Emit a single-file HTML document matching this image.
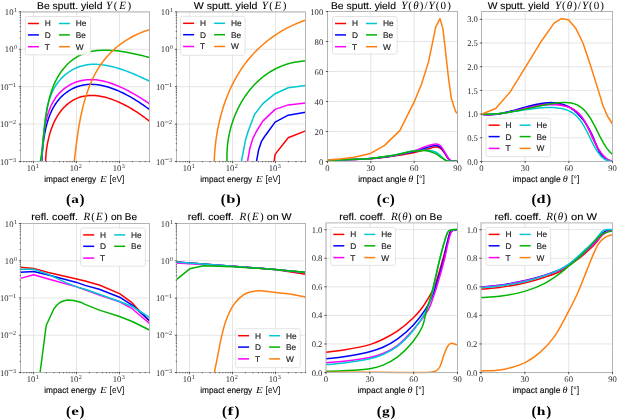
<!DOCTYPE html>
<html><head><meta charset="utf-8"><style>
html,body{margin:0;padding:0;background:#fff;width:617px;height:419px;overflow:hidden}
svg{display:block;will-change:transform}
text{text-rendering:geometricPrecision}
.t{stroke:#000;stroke-width:0.12px}
.u{stroke:#222;stroke-width:0.15px}
</style></head><body>
<svg width="617" height="419" viewBox="0 0 617 419">
<rect width="617" height="419" fill="#fff"/>
<line x1="33.44" y1="11.9" x2="33.44" y2="161.5" stroke="#dedede" stroke-width="0.8"/>
<line x1="76.44" y1="11.9" x2="76.44" y2="161.5" stroke="#dedede" stroke-width="0.8"/>
<line x1="119.44" y1="11.9" x2="119.44" y2="161.5" stroke="#dedede" stroke-width="0.8"/>
<line x1="20.5" y1="161.5" x2="149.5" y2="161.5" stroke="#dedede" stroke-width="0.8"/>
<line x1="20.5" y1="124.1" x2="149.5" y2="124.1" stroke="#dedede" stroke-width="0.8"/>
<line x1="20.5" y1="86.7" x2="149.5" y2="86.7" stroke="#dedede" stroke-width="0.8"/>
<line x1="20.5" y1="49.3" x2="149.5" y2="49.3" stroke="#dedede" stroke-width="0.8"/>
<line x1="20.5" y1="11.9" x2="149.5" y2="11.9" stroke="#dedede" stroke-width="0.8"/>
<path d="M45.6,161.5 L45.66,159.76 L45.74,157.98 L45.85,156.16 L46,154.3 L46.19,152.41 L46.41,150.49 L46.67,148.55 L46.96,146.59 L47.29,144.62 L47.66,142.63 L48.08,140.63 L48.53,138.64 L49.02,136.64 L49.56,134.65 L50.14,132.66 L50.77,130.69 L51.44,128.74 L52.16,126.81 L52.93,124.9 L53.74,123.02 L54.6,121.17 L55.52,119.36 L56.48,117.59 L57.5,115.87 L58.57,114.2 L59.69,112.58 L60.87,111.01 L62.1,109.51 L63.39,108.07 L64.72,106.69 L66.1,105.38 L67.53,104.15 L69,102.98 L70.51,101.89 L72.06,100.88 L73.65,99.95 L75.27,99.1 L76.93,98.34 L78.62,97.66 L80.33,97.08 L82.07,96.59 L83.84,96.19 L85.63,95.88 L87.44,95.65 L89.27,95.51 L91.12,95.46 L92.98,95.48 L94.86,95.57 L96.75,95.74 L98.64,95.98 L100.55,96.29 L102.46,96.66 L104.38,97.1 L106.3,97.59 L108.21,98.15 L110.13,98.75 L112.04,99.41 L113.95,100.11 L115.85,100.86 L117.74,101.66 L119.63,102.49 L121.49,103.36 L123.35,104.27 L125.19,105.21 L127,106.18 L128.8,107.18 L130.58,108.19 L132.33,109.24 L134.06,110.29 L135.76,111.37 L137.43,112.46 L139.07,113.56 L140.67,114.66 L142.24,115.77 L143.77,116.89 L145.26,118 L146.72,119.11 L148.13,120.21 L149.49,121.3" fill="none" stroke="#ff0000" stroke-width="1.5" stroke-linejoin="round"/>
<path d="M41.8,161.5 L41.9,159.64 L42.02,157.72 L42.14,155.76 L42.28,153.76 L42.43,151.72 L42.61,149.64 L42.8,147.54 L43.02,145.41 L43.27,143.25 L43.54,141.08 L43.84,138.9 L44.17,136.71 L44.54,134.51 L44.95,132.31 L45.39,130.11 L45.87,127.92 L46.4,125.75 L46.97,123.59 L47.59,121.45 L48.25,119.33 L48.97,117.24 L49.74,115.19 L50.57,113.17 L51.46,111.19 L52.4,109.26 L53.41,107.38 L54.48,105.55 L55.62,103.78 L56.82,102.07 L58.09,100.42 L59.43,98.85 L60.83,97.34 L62.29,95.9 L63.81,94.54 L65.38,93.25 L67,92.04 L68.67,90.91 L70.39,89.86 L72.15,88.9 L73.95,88.02 L75.78,87.23 L77.65,86.53 L79.55,85.92 L81.49,85.41 L83.44,84.99 L85.42,84.68 L87.43,84.46 L89.45,84.34 L91.48,84.31 L93.53,84.38 L95.6,84.53 L97.67,84.77 L99.75,85.09 L101.84,85.48 L103.93,85.94 L106.02,86.48 L108.11,87.08 L110.19,87.74 L112.27,88.46 L114.35,89.23 L116.41,90.05 L118.47,90.93 L120.51,91.84 L122.53,92.8 L124.53,93.79 L126.52,94.82 L128.48,95.87 L130.42,96.95 L132.33,98.05 L134.21,99.18 L136.06,100.31 L137.88,101.46 L139.66,102.61 L141.41,103.77 L143.11,104.93 L144.77,106.09 L146.39,107.24 L147.97,108.38 L149.49,109.5" fill="none" stroke="#0000ff" stroke-width="1.5" stroke-linejoin="round"/>
<path d="M41.4,161.5 L41.53,159.66 L41.65,157.77 L41.78,155.81 L41.91,153.8 L42.05,151.74 L42.19,149.63 L42.35,147.48 L42.53,145.3 L42.72,143.09 L42.93,140.85 L43.17,138.59 L43.43,136.31 L43.72,134.02 L44.05,131.73 L44.4,129.43 L44.8,127.13 L45.23,124.84 L45.7,122.56 L46.22,120.3 L46.79,118.05 L47.4,115.84 L48.07,113.65 L48.79,111.49 L49.57,109.38 L50.41,107.31 L51.32,105.28 L52.29,103.31 L53.33,101.4 L54.44,99.55 L55.62,97.77 L56.88,96.06 L58.22,94.43 L59.63,92.87 L61.1,91.38 L62.64,89.98 L64.25,88.66 L65.91,87.42 L67.62,86.27 L69.39,85.2 L71.21,84.22 L73.07,83.33 L74.97,82.53 L76.91,81.82 L78.89,81.21 L80.9,80.7 L82.93,80.28 L84.99,79.96 L87.07,79.74 L89.17,79.63 L91.29,79.61 L93.42,79.69 L95.56,79.85 L97.7,80.1 L99.86,80.44 L102.02,80.85 L104.18,81.34 L106.35,81.89 L108.51,82.52 L110.67,83.2 L112.82,83.94 L114.96,84.74 L117.09,85.59 L119.21,86.48 L121.31,87.42 L123.4,88.39 L125.46,89.4 L127.51,90.44 L129.52,91.5 L131.52,92.59 L133.48,93.69 L135.41,94.81 L137.31,95.94 L139.18,97.08 L141,98.21 L142.79,99.35 L144.53,100.48 L146.23,101.6 L147.89,102.71 L149.49,103.8" fill="none" stroke="#ff00ff" stroke-width="1.5" stroke-linejoin="round"/>
<path d="M40.9,161.5 L41.23,159.49 L41.54,157.43 L41.81,155.32 L42.06,153.17 L42.3,150.97 L42.51,148.73 L42.72,146.45 L42.91,144.14 L43.1,141.8 L43.28,139.44 L43.47,137.05 L43.66,134.65 L43.86,132.23 L44.08,129.81 L44.31,127.37 L44.56,124.93 L44.83,122.49 L45.13,120.06 L45.46,117.63 L45.82,115.21 L46.22,112.81 L46.66,110.42 L47.14,108.06 L47.68,105.72 L48.26,103.41 L48.9,101.13 L49.6,98.89 L50.36,96.69 L51.19,94.53 L52.09,92.42 L53.06,90.36 L54.11,88.35 L55.23,86.4 L56.44,84.51 L57.74,82.69 L59.11,80.94 L60.56,79.25 L62.09,77.64 L63.69,76.11 L65.35,74.65 L67.08,73.28 L68.87,71.99 L70.72,70.8 L72.62,69.69 L74.57,68.68 L76.58,67.77 L78.62,66.96 L80.71,66.25 L82.84,65.65 L85,65.16 L87.2,64.78 L89.42,64.51 L91.67,64.35 L93.95,64.28 L96.24,64.31 L98.55,64.42 L100.88,64.62 L103.21,64.91 L105.56,65.26 L107.91,65.69 L110.26,66.19 L112.61,66.74 L114.95,67.36 L117.29,68.02 L119.62,68.74 L121.94,69.5 L124.24,70.29 L126.52,71.12 L128.78,71.99 L131.01,72.87 L133.22,73.78 L135.39,74.7 L137.53,75.63 L139.64,76.57 L141.7,77.51 L143.72,78.45 L145.7,79.38 L147.62,80.3 L149.49,81.2" fill="none" stroke="#00c8d2" stroke-width="1.5" stroke-linejoin="round"/>
<path d="M40.3,161.5 L40.7,159.33 L41.07,157.13 L41.42,154.9 L41.75,152.63 L42.05,150.33 L42.34,148 L42.61,145.65 L42.88,143.27 L43.13,140.88 L43.38,138.46 L43.63,136.03 L43.88,133.58 L44.14,131.13 L44.4,128.66 L44.67,126.18 L44.95,123.71 L45.25,121.22 L45.57,118.74 L45.91,116.26 L46.28,113.79 L46.67,111.32 L47.1,108.86 L47.55,106.42 L48.05,103.99 L48.58,101.57 L49.16,99.17 L49.79,96.8 L50.46,94.44 L51.18,92.12 L51.96,89.82 L52.8,87.55 L53.69,85.31 L54.65,83.11 L55.68,80.94 L56.78,78.82 L57.94,76.74 L59.17,74.71 L60.47,72.73 L61.84,70.81 L63.27,68.94 L64.77,67.15 L66.33,65.43 L67.96,63.78 L69.65,62.21 L71.4,60.72 L73.21,59.33 L75.08,58.02 L77.01,56.82 L78.99,55.71 L81.04,54.71 L83.14,53.82 L85.3,53.04 L87.51,52.37 L89.76,51.79 L92.05,51.3 L94.38,50.91 L96.75,50.61 L99.15,50.39 L101.57,50.24 L104.01,50.18 L106.48,50.18 L108.95,50.25 L111.44,50.38 L113.94,50.56 L116.43,50.8 L118.93,51.1 L121.42,51.43 L123.9,51.81 L126.37,52.23 L128.82,52.67 L131.25,53.15 L133.66,53.65 L136.04,54.17 L138.39,54.71 L140.7,55.26 L142.97,55.82 L145.19,56.38 L147.37,56.95 L149.5,57.5" fill="none" stroke="#00b400" stroke-width="1.5" stroke-linejoin="round"/>
<path d="M74.2,161.5 L74.44,159.55 L74.67,157.58 L74.91,155.61 L75.15,153.62 L75.39,151.62 L75.64,149.6 L75.89,147.58 L76.15,145.55 L76.41,143.51 L76.68,141.47 L76.96,139.42 L77.25,137.36 L77.54,135.3 L77.85,133.24 L78.16,131.17 L78.49,129.1 L78.83,127.03 L79.19,124.95 L79.55,122.88 L79.93,120.81 L80.33,118.74 L80.74,116.68 L81.17,114.62 L81.61,112.56 L82.08,110.51 L82.56,108.47 L83.06,106.43 L83.58,104.4 L84.12,102.38 L84.69,100.37 L85.27,98.37 L85.88,96.38 L86.51,94.4 L87.17,92.43 L87.85,90.48 L88.56,88.55 L89.29,86.63 L90.06,84.72 L90.85,82.84 L91.67,80.97 L92.51,79.12 L93.39,77.29 L94.3,75.48 L95.24,73.69 L96.22,71.93 L97.22,70.18 L98.27,68.46 L99.34,66.77 L100.45,65.1 L101.6,63.46 L102.78,61.84 L104,60.26 L105.26,58.7 L106.55,57.17 L107.87,55.66 L109.23,54.19 L110.63,52.75 L112.05,51.34 L113.52,49.96 L115.01,48.61 L116.54,47.29 L118.11,46.01 L119.7,44.76 L121.33,43.54 L123,42.36 L124.69,41.21 L126.41,40.1 L128.17,39.03 L129.96,37.99 L131.78,36.99 L133.63,36.02 L135.51,35.09 L137.42,34.2 L139.36,33.35 L141.34,32.54 L143.34,31.77 L145.37,31.04 L147.43,30.36 L149.51,29.71" fill="none" stroke="#ff7f0e" stroke-width="1.5" stroke-linejoin="round"/>
<rect x="20.5" y="11.9" width="129" height="149.6" fill="none" stroke="#b4b4b4" stroke-width="1"/>
<line x1="33.44" y1="160.9" x2="33.44" y2="163.2" stroke="#484848" stroke-width="0.9"/>
<line x1="76.44" y1="160.9" x2="76.44" y2="163.2" stroke="#484848" stroke-width="0.9"/>
<line x1="119.44" y1="160.9" x2="119.44" y2="163.2" stroke="#484848" stroke-width="0.9"/>
<line x1="21.1" y1="161.5" x2="18.8" y2="161.5" stroke="#484848" stroke-width="0.9"/>
<line x1="21.1" y1="124.1" x2="18.8" y2="124.1" stroke="#484848" stroke-width="0.9"/>
<line x1="21.1" y1="86.7" x2="18.8" y2="86.7" stroke="#484848" stroke-width="0.9"/>
<line x1="21.1" y1="49.3" x2="18.8" y2="49.3" stroke="#484848" stroke-width="0.9"/>
<line x1="21.1" y1="11.9" x2="18.8" y2="11.9" stroke="#484848" stroke-width="0.9"/>
<line x1="20.5" y1="161" x2="20.5" y2="162.3" stroke="#484848" stroke-width="0.8"/>
<line x1="23.9" y1="161" x2="23.9" y2="162.3" stroke="#484848" stroke-width="0.8"/>
<line x1="26.78" y1="161" x2="26.78" y2="162.3" stroke="#484848" stroke-width="0.8"/>
<line x1="29.28" y1="161" x2="29.28" y2="162.3" stroke="#484848" stroke-width="0.8"/>
<line x1="31.48" y1="161" x2="31.48" y2="162.3" stroke="#484848" stroke-width="0.8"/>
<line x1="46.39" y1="161" x2="46.39" y2="162.3" stroke="#484848" stroke-width="0.8"/>
<line x1="53.96" y1="161" x2="53.96" y2="162.3" stroke="#484848" stroke-width="0.8"/>
<line x1="59.33" y1="161" x2="59.33" y2="162.3" stroke="#484848" stroke-width="0.8"/>
<line x1="63.5" y1="161" x2="63.5" y2="162.3" stroke="#484848" stroke-width="0.8"/>
<line x1="66.9" y1="161" x2="66.9" y2="162.3" stroke="#484848" stroke-width="0.8"/>
<line x1="69.78" y1="161" x2="69.78" y2="162.3" stroke="#484848" stroke-width="0.8"/>
<line x1="72.28" y1="161" x2="72.28" y2="162.3" stroke="#484848" stroke-width="0.8"/>
<line x1="74.48" y1="161" x2="74.48" y2="162.3" stroke="#484848" stroke-width="0.8"/>
<line x1="89.39" y1="161" x2="89.39" y2="162.3" stroke="#484848" stroke-width="0.8"/>
<line x1="96.96" y1="161" x2="96.96" y2="162.3" stroke="#484848" stroke-width="0.8"/>
<line x1="102.33" y1="161" x2="102.33" y2="162.3" stroke="#484848" stroke-width="0.8"/>
<line x1="106.5" y1="161" x2="106.5" y2="162.3" stroke="#484848" stroke-width="0.8"/>
<line x1="109.9" y1="161" x2="109.9" y2="162.3" stroke="#484848" stroke-width="0.8"/>
<line x1="112.78" y1="161" x2="112.78" y2="162.3" stroke="#484848" stroke-width="0.8"/>
<line x1="115.28" y1="161" x2="115.28" y2="162.3" stroke="#484848" stroke-width="0.8"/>
<line x1="117.48" y1="161" x2="117.48" y2="162.3" stroke="#484848" stroke-width="0.8"/>
<line x1="132.39" y1="161" x2="132.39" y2="162.3" stroke="#484848" stroke-width="0.8"/>
<line x1="139.96" y1="161" x2="139.96" y2="162.3" stroke="#484848" stroke-width="0.8"/>
<line x1="145.33" y1="161" x2="145.33" y2="162.3" stroke="#484848" stroke-width="0.8"/>
<line x1="149.5" y1="161" x2="149.5" y2="162.3" stroke="#484848" stroke-width="0.8"/>
<line x1="21" y1="150.24" x2="19.7" y2="150.24" stroke="#484848" stroke-width="0.8"/>
<line x1="21" y1="143.66" x2="19.7" y2="143.66" stroke="#484848" stroke-width="0.8"/>
<line x1="21" y1="138.98" x2="19.7" y2="138.98" stroke="#484848" stroke-width="0.8"/>
<line x1="21" y1="135.36" x2="19.7" y2="135.36" stroke="#484848" stroke-width="0.8"/>
<line x1="21" y1="132.4" x2="19.7" y2="132.4" stroke="#484848" stroke-width="0.8"/>
<line x1="21" y1="129.89" x2="19.7" y2="129.89" stroke="#484848" stroke-width="0.8"/>
<line x1="21" y1="127.72" x2="19.7" y2="127.72" stroke="#484848" stroke-width="0.8"/>
<line x1="21" y1="125.81" x2="19.7" y2="125.81" stroke="#484848" stroke-width="0.8"/>
<line x1="21" y1="112.84" x2="19.7" y2="112.84" stroke="#484848" stroke-width="0.8"/>
<line x1="21" y1="106.26" x2="19.7" y2="106.26" stroke="#484848" stroke-width="0.8"/>
<line x1="21" y1="101.58" x2="19.7" y2="101.58" stroke="#484848" stroke-width="0.8"/>
<line x1="21" y1="97.96" x2="19.7" y2="97.96" stroke="#484848" stroke-width="0.8"/>
<line x1="21" y1="95" x2="19.7" y2="95" stroke="#484848" stroke-width="0.8"/>
<line x1="21" y1="92.49" x2="19.7" y2="92.49" stroke="#484848" stroke-width="0.8"/>
<line x1="21" y1="90.32" x2="19.7" y2="90.32" stroke="#484848" stroke-width="0.8"/>
<line x1="21" y1="88.41" x2="19.7" y2="88.41" stroke="#484848" stroke-width="0.8"/>
<line x1="21" y1="75.44" x2="19.7" y2="75.44" stroke="#484848" stroke-width="0.8"/>
<line x1="21" y1="68.86" x2="19.7" y2="68.86" stroke="#484848" stroke-width="0.8"/>
<line x1="21" y1="64.18" x2="19.7" y2="64.18" stroke="#484848" stroke-width="0.8"/>
<line x1="21" y1="60.56" x2="19.7" y2="60.56" stroke="#484848" stroke-width="0.8"/>
<line x1="21" y1="57.6" x2="19.7" y2="57.6" stroke="#484848" stroke-width="0.8"/>
<line x1="21" y1="55.09" x2="19.7" y2="55.09" stroke="#484848" stroke-width="0.8"/>
<line x1="21" y1="52.92" x2="19.7" y2="52.92" stroke="#484848" stroke-width="0.8"/>
<line x1="21" y1="51.01" x2="19.7" y2="51.01" stroke="#484848" stroke-width="0.8"/>
<line x1="21" y1="38.04" x2="19.7" y2="38.04" stroke="#484848" stroke-width="0.8"/>
<line x1="21" y1="31.46" x2="19.7" y2="31.46" stroke="#484848" stroke-width="0.8"/>
<line x1="21" y1="26.78" x2="19.7" y2="26.78" stroke="#484848" stroke-width="0.8"/>
<line x1="21" y1="23.16" x2="19.7" y2="23.16" stroke="#484848" stroke-width="0.8"/>
<line x1="21" y1="20.2" x2="19.7" y2="20.2" stroke="#484848" stroke-width="0.8"/>
<line x1="21" y1="17.69" x2="19.7" y2="17.69" stroke="#484848" stroke-width="0.8"/>
<line x1="21" y1="15.52" x2="19.7" y2="15.52" stroke="#484848" stroke-width="0.8"/>
<line x1="21" y1="13.61" x2="19.7" y2="13.61" stroke="#484848" stroke-width="0.8"/>
<rect x="25.4" y="16.5" width="65.2" height="38.3" rx="2" ry="2" fill="#ffffff" fill-opacity="0.9" stroke="#dcdcdc" stroke-width="0.8"/>
<line x1="27.9" y1="23.5" x2="38.9" y2="23.5" stroke="#ff0000" stroke-width="1.5"/>
<text class="u" x="44.8" y="26.4" font-family='"Liberation Sans", sans-serif' font-size="8.35" fill="#1a1a1a">H</text>
<line x1="27.9" y1="34.9" x2="38.9" y2="34.9" stroke="#0000ff" stroke-width="1.5"/>
<text class="u" x="44.8" y="37.8" font-family='"Liberation Sans", sans-serif' font-size="8.35" fill="#1a1a1a">D</text>
<line x1="27.9" y1="46.7" x2="38.9" y2="46.7" stroke="#ff00ff" stroke-width="1.5"/>
<text class="u" x="44.8" y="49.6" font-family='"Liberation Sans", sans-serif' font-size="8.35" fill="#1a1a1a">T</text>
<line x1="58.9" y1="23.5" x2="69.9" y2="23.5" stroke="#00c8d2" stroke-width="1.5"/>
<text class="u" x="75.8" y="26.4" font-family='"Liberation Sans", sans-serif' font-size="8.35" fill="#1a1a1a">He</text>
<line x1="58.9" y1="34.9" x2="69.9" y2="34.9" stroke="#00b400" stroke-width="1.5"/>
<text class="u" x="75.8" y="37.8" font-family='"Liberation Sans", sans-serif' font-size="8.35" fill="#1a1a1a">Be</text>
<line x1="58.9" y1="46.7" x2="69.9" y2="46.7" stroke="#ff7f0e" stroke-width="1.5"/>
<text class="u" x="75.8" y="49.6" font-family='"Liberation Sans", sans-serif' font-size="8.35" fill="#1a1a1a">W</text>
<text x="26.72" y="170.8" font-family='"Liberation Serif", serif' font-size="8.6" fill="#2a2a2a">10</text>
<text x="35.74" y="167.6" font-family='"Liberation Serif", serif' font-size="6.2" fill="#2a2a2a">1</text>
<text x="69.72" y="170.8" font-family='"Liberation Serif", serif' font-size="8.6" fill="#2a2a2a">10</text>
<text x="78.74" y="167.6" font-family='"Liberation Serif", serif' font-size="6.2" fill="#2a2a2a">2</text>
<text x="112.72" y="170.8" font-family='"Liberation Serif", serif' font-size="8.6" fill="#2a2a2a">10</text>
<text x="121.74" y="167.6" font-family='"Liberation Serif", serif' font-size="6.2" fill="#2a2a2a">3</text>
<text x="13.04" y="161.6" font-family='"Liberation Serif", serif' font-size="6.2" fill="#2a2a2a">3</text>
<line x1="8.7" y1="159.4" x2="12.8" y2="159.4" stroke="#2a2a2a" stroke-width="0.55"/>
<text x="-0.06" y="164.6" font-family='"Liberation Serif", serif' font-size="8.6" fill="#2a2a2a">10</text>
<text x="13.04" y="124.2" font-family='"Liberation Serif", serif' font-size="6.2" fill="#2a2a2a">2</text>
<line x1="8.7" y1="122" x2="12.8" y2="122" stroke="#2a2a2a" stroke-width="0.55"/>
<text x="-0.06" y="127.2" font-family='"Liberation Serif", serif' font-size="8.6" fill="#2a2a2a">10</text>
<text x="13.04" y="86.8" font-family='"Liberation Serif", serif' font-size="6.2" fill="#2a2a2a">1</text>
<line x1="8.7" y1="84.6" x2="12.8" y2="84.6" stroke="#2a2a2a" stroke-width="0.55"/>
<text x="-0.06" y="89.8" font-family='"Liberation Serif", serif' font-size="8.6" fill="#2a2a2a">10</text>
<text x="14.05" y="49.4" font-family='"Liberation Serif", serif' font-size="6.2" fill="#2a2a2a">0</text>
<text x="4.84" y="52.4" font-family='"Liberation Serif", serif' font-size="8.6" fill="#2a2a2a">10</text>
<text x="14.05" y="12" font-family='"Liberation Serif", serif' font-size="6.2" fill="#2a2a2a">1</text>
<text x="4.84" y="15" font-family='"Liberation Serif", serif' font-size="8.6" fill="#2a2a2a">10</text>
<text class="t" x="36.97" y="8.75" font-family='"Liberation Sans", sans-serif' font-size="9.8" fill="#000000" textLength="65.47" lengthAdjust="spacingAndGlyphs">Be sputt. yield</text>
<text x="106.09" y="8.75" font-family='"Liberation Serif", serif' font-size="11.0" fill="#000000" font-style="italic" textLength="25.09" lengthAdjust="spacing">Y<tspan font-style="normal">(</tspan>E<tspan font-style="normal">)</tspan></text>
<text class="u" x="44.22" y="181.9" font-family='"Liberation Sans", sans-serif' font-size="8.6" fill="#000000" textLength="51.99" lengthAdjust="spacingAndGlyphs">impact energy</text>
<text x="100.01" y="181.5" font-family='"Liberation Serif", serif' font-size="9.3" fill="#000000" font-style="italic" textLength="6.72" lengthAdjust="spacingAndGlyphs">E</text>
<text x="109.62" y="181.5" font-family='"Liberation Sans", sans-serif' font-size="9.2" fill="#000000" textLength="14.75" lengthAdjust="spacingAndGlyphs">[eV]</text>
<text x="66" y="204.4" font-family='"Liberation Serif", serif' font-size="14.9" fill="#000" font-weight="bold" textLength="5" lengthAdjust="spacingAndGlyphs">(</text>
<text x="71.35" y="203.4" font-family='"Liberation Serif", serif' font-size="11.9" fill="#000" font-weight="bold" textLength="7.56" lengthAdjust="spacingAndGlyphs">a</text>
<text x="79.45" y="204.4" font-family='"Liberation Serif", serif' font-size="14.9" fill="#000" font-weight="bold" textLength="5" lengthAdjust="spacingAndGlyphs">)</text>
<line x1="189.44" y1="11.9" x2="189.44" y2="161.5" stroke="#dedede" stroke-width="0.8"/>
<line x1="232.44" y1="11.9" x2="232.44" y2="161.5" stroke="#dedede" stroke-width="0.8"/>
<line x1="275.44" y1="11.9" x2="275.44" y2="161.5" stroke="#dedede" stroke-width="0.8"/>
<line x1="176.5" y1="161.5" x2="305.5" y2="161.5" stroke="#dedede" stroke-width="0.8"/>
<line x1="176.5" y1="124.1" x2="305.5" y2="124.1" stroke="#dedede" stroke-width="0.8"/>
<line x1="176.5" y1="86.7" x2="305.5" y2="86.7" stroke="#dedede" stroke-width="0.8"/>
<line x1="176.5" y1="49.3" x2="305.5" y2="49.3" stroke="#dedede" stroke-width="0.8"/>
<line x1="176.5" y1="11.9" x2="305.5" y2="11.9" stroke="#dedede" stroke-width="0.8"/>
<path d="M274.1,161.5 L275.1,154.4 L288.2,137.7 L305.5,130.9" fill="none" stroke="#ff0000" stroke-width="1.5" stroke-linejoin="round"/>
<path d="M256.5,161.5 L258.6,149.9 L261.5,141.3 L264.3,137 L267.9,132 L275.1,122.1 L288.2,115.2 L305.5,112.3" fill="none" stroke="#0000ff" stroke-width="1.5" stroke-linejoin="round"/>
<path d="M247.5,161.5 L250,147.7 L252.9,138.4 L256.1,132 L262.8,121.1 L275.1,109.4 L288.2,104.9 L305.5,103.1" fill="none" stroke="#ff00ff" stroke-width="1.5" stroke-linejoin="round"/>
<path d="M241.4,161.5 L243.6,149.9 L245.7,139.2 L247.9,132 L254.5,114.5 L262.8,103.6 L275.1,93.7 L288.2,87.8 L305.5,85.5" fill="none" stroke="#00c8d2" stroke-width="1.5" stroke-linejoin="round"/>
<path d="M227.11,161.5 L227.03,159.72 L226.98,157.93 L226.96,156.14 L226.98,154.35 L227.02,152.56 L227.1,150.76 L227.21,148.97 L227.34,147.18 L227.51,145.38 L227.71,143.59 L227.93,141.8 L228.19,140.01 L228.48,138.23 L228.8,136.45 L229.14,134.67 L229.52,132.91 L229.92,131.14 L230.35,129.39 L230.82,127.64 L231.31,125.9 L231.83,124.16 L232.37,122.44 L232.95,120.73 L233.55,119.02 L234.18,117.33 L234.84,115.65 L235.53,113.99 L236.24,112.34 L236.98,110.7 L237.75,109.07 L238.55,107.46 L239.37,105.87 L240.22,104.29 L241.1,102.73 L242,101.19 L242.93,99.67 L243.88,98.16 L244.86,96.68 L245.87,95.22 L246.9,93.77 L247.95,92.35 L249.04,90.96 L250.14,89.58 L251.28,88.23 L252.43,86.9 L253.61,85.6 L254.82,84.32 L256.05,83.07 L257.31,81.85 L258.59,80.66 L259.89,79.49 L261.22,78.35 L262.57,77.25 L263.94,76.17 L265.34,75.12 L266.76,74.11 L268.21,73.12 L269.67,72.17 L271.16,71.26 L272.67,70.38 L274.21,69.53 L275.77,68.72 L277.35,67.94 L278.95,67.2 L280.57,66.5 L282.21,65.84 L283.88,65.22 L285.57,64.63 L287.28,64.09 L289.01,63.59 L290.76,63.12 L292.53,62.7 L294.32,62.33 L296.14,61.99 L297.97,61.7 L299.82,61.46 L301.7,61.26 L303.59,61.11 L305.51,61" fill="none" stroke="#00b400" stroke-width="1.5" stroke-linejoin="round"/>
<path d="M214.21,161.5 L214.3,159.24 L214.4,156.97 L214.54,154.7 L214.69,152.42 L214.88,150.15 L215.08,147.87 L215.31,145.6 L215.57,143.32 L215.84,141.05 L216.15,138.78 L216.48,136.51 L216.84,134.24 L217.22,131.98 L217.62,129.72 L218.06,127.47 L218.52,125.22 L219,122.98 L219.51,120.74 L220.05,118.51 L220.62,116.29 L221.21,114.08 L221.83,111.88 L222.48,109.69 L223.16,107.5 L223.86,105.33 L224.59,103.17 L225.35,101.02 L226.14,98.89 L226.96,96.77 L227.81,94.66 L228.68,92.57 L229.58,90.49 L230.52,88.43 L231.48,86.38 L232.47,84.35 L233.5,82.34 L234.55,80.35 L235.63,78.38 L236.74,76.42 L237.89,74.49 L239.06,72.58 L240.27,70.69 L241.5,68.82 L242.77,66.97 L244.07,65.14 L245.4,63.34 L246.77,61.57 L248.16,59.82 L249.59,58.09 L251.05,56.39 L252.54,54.72 L254.06,53.07 L255.61,51.45 L257.19,49.86 L258.8,48.29 L260.44,46.76 L262.11,45.25 L263.81,43.77 L265.53,42.32 L267.29,40.9 L269.07,39.52 L270.88,38.16 L272.72,36.83 L274.58,35.54 L276.47,34.27 L278.38,33.04 L280.33,31.85 L282.29,30.68 L284.28,29.55 L286.3,28.46 L288.34,27.4 L290.41,26.37 L292.5,25.38 L294.61,24.43 L296.75,23.51 L298.9,22.63 L301.08,21.78 L303.29,20.97 L305.51,20.21" fill="none" stroke="#ff7f0e" stroke-width="1.5" stroke-linejoin="round"/>
<rect x="176.5" y="11.9" width="129" height="149.6" fill="none" stroke="#b4b4b4" stroke-width="1"/>
<line x1="189.44" y1="160.9" x2="189.44" y2="163.2" stroke="#484848" stroke-width="0.9"/>
<line x1="232.44" y1="160.9" x2="232.44" y2="163.2" stroke="#484848" stroke-width="0.9"/>
<line x1="275.44" y1="160.9" x2="275.44" y2="163.2" stroke="#484848" stroke-width="0.9"/>
<line x1="177.1" y1="161.5" x2="174.8" y2="161.5" stroke="#484848" stroke-width="0.9"/>
<line x1="177.1" y1="124.1" x2="174.8" y2="124.1" stroke="#484848" stroke-width="0.9"/>
<line x1="177.1" y1="86.7" x2="174.8" y2="86.7" stroke="#484848" stroke-width="0.9"/>
<line x1="177.1" y1="49.3" x2="174.8" y2="49.3" stroke="#484848" stroke-width="0.9"/>
<line x1="177.1" y1="11.9" x2="174.8" y2="11.9" stroke="#484848" stroke-width="0.9"/>
<line x1="176.5" y1="161" x2="176.5" y2="162.3" stroke="#484848" stroke-width="0.8"/>
<line x1="179.9" y1="161" x2="179.9" y2="162.3" stroke="#484848" stroke-width="0.8"/>
<line x1="182.78" y1="161" x2="182.78" y2="162.3" stroke="#484848" stroke-width="0.8"/>
<line x1="185.28" y1="161" x2="185.28" y2="162.3" stroke="#484848" stroke-width="0.8"/>
<line x1="187.48" y1="161" x2="187.48" y2="162.3" stroke="#484848" stroke-width="0.8"/>
<line x1="202.39" y1="161" x2="202.39" y2="162.3" stroke="#484848" stroke-width="0.8"/>
<line x1="209.96" y1="161" x2="209.96" y2="162.3" stroke="#484848" stroke-width="0.8"/>
<line x1="215.33" y1="161" x2="215.33" y2="162.3" stroke="#484848" stroke-width="0.8"/>
<line x1="219.5" y1="161" x2="219.5" y2="162.3" stroke="#484848" stroke-width="0.8"/>
<line x1="222.9" y1="161" x2="222.9" y2="162.3" stroke="#484848" stroke-width="0.8"/>
<line x1="225.78" y1="161" x2="225.78" y2="162.3" stroke="#484848" stroke-width="0.8"/>
<line x1="228.28" y1="161" x2="228.28" y2="162.3" stroke="#484848" stroke-width="0.8"/>
<line x1="230.48" y1="161" x2="230.48" y2="162.3" stroke="#484848" stroke-width="0.8"/>
<line x1="245.39" y1="161" x2="245.39" y2="162.3" stroke="#484848" stroke-width="0.8"/>
<line x1="252.96" y1="161" x2="252.96" y2="162.3" stroke="#484848" stroke-width="0.8"/>
<line x1="258.33" y1="161" x2="258.33" y2="162.3" stroke="#484848" stroke-width="0.8"/>
<line x1="262.5" y1="161" x2="262.5" y2="162.3" stroke="#484848" stroke-width="0.8"/>
<line x1="265.9" y1="161" x2="265.9" y2="162.3" stroke="#484848" stroke-width="0.8"/>
<line x1="268.78" y1="161" x2="268.78" y2="162.3" stroke="#484848" stroke-width="0.8"/>
<line x1="271.28" y1="161" x2="271.28" y2="162.3" stroke="#484848" stroke-width="0.8"/>
<line x1="273.48" y1="161" x2="273.48" y2="162.3" stroke="#484848" stroke-width="0.8"/>
<line x1="288.39" y1="161" x2="288.39" y2="162.3" stroke="#484848" stroke-width="0.8"/>
<line x1="295.96" y1="161" x2="295.96" y2="162.3" stroke="#484848" stroke-width="0.8"/>
<line x1="301.33" y1="161" x2="301.33" y2="162.3" stroke="#484848" stroke-width="0.8"/>
<line x1="305.5" y1="161" x2="305.5" y2="162.3" stroke="#484848" stroke-width="0.8"/>
<line x1="177" y1="150.24" x2="175.7" y2="150.24" stroke="#484848" stroke-width="0.8"/>
<line x1="177" y1="143.66" x2="175.7" y2="143.66" stroke="#484848" stroke-width="0.8"/>
<line x1="177" y1="138.98" x2="175.7" y2="138.98" stroke="#484848" stroke-width="0.8"/>
<line x1="177" y1="135.36" x2="175.7" y2="135.36" stroke="#484848" stroke-width="0.8"/>
<line x1="177" y1="132.4" x2="175.7" y2="132.4" stroke="#484848" stroke-width="0.8"/>
<line x1="177" y1="129.89" x2="175.7" y2="129.89" stroke="#484848" stroke-width="0.8"/>
<line x1="177" y1="127.72" x2="175.7" y2="127.72" stroke="#484848" stroke-width="0.8"/>
<line x1="177" y1="125.81" x2="175.7" y2="125.81" stroke="#484848" stroke-width="0.8"/>
<line x1="177" y1="112.84" x2="175.7" y2="112.84" stroke="#484848" stroke-width="0.8"/>
<line x1="177" y1="106.26" x2="175.7" y2="106.26" stroke="#484848" stroke-width="0.8"/>
<line x1="177" y1="101.58" x2="175.7" y2="101.58" stroke="#484848" stroke-width="0.8"/>
<line x1="177" y1="97.96" x2="175.7" y2="97.96" stroke="#484848" stroke-width="0.8"/>
<line x1="177" y1="95" x2="175.7" y2="95" stroke="#484848" stroke-width="0.8"/>
<line x1="177" y1="92.49" x2="175.7" y2="92.49" stroke="#484848" stroke-width="0.8"/>
<line x1="177" y1="90.32" x2="175.7" y2="90.32" stroke="#484848" stroke-width="0.8"/>
<line x1="177" y1="88.41" x2="175.7" y2="88.41" stroke="#484848" stroke-width="0.8"/>
<line x1="177" y1="75.44" x2="175.7" y2="75.44" stroke="#484848" stroke-width="0.8"/>
<line x1="177" y1="68.86" x2="175.7" y2="68.86" stroke="#484848" stroke-width="0.8"/>
<line x1="177" y1="64.18" x2="175.7" y2="64.18" stroke="#484848" stroke-width="0.8"/>
<line x1="177" y1="60.56" x2="175.7" y2="60.56" stroke="#484848" stroke-width="0.8"/>
<line x1="177" y1="57.6" x2="175.7" y2="57.6" stroke="#484848" stroke-width="0.8"/>
<line x1="177" y1="55.09" x2="175.7" y2="55.09" stroke="#484848" stroke-width="0.8"/>
<line x1="177" y1="52.92" x2="175.7" y2="52.92" stroke="#484848" stroke-width="0.8"/>
<line x1="177" y1="51.01" x2="175.7" y2="51.01" stroke="#484848" stroke-width="0.8"/>
<line x1="177" y1="38.04" x2="175.7" y2="38.04" stroke="#484848" stroke-width="0.8"/>
<line x1="177" y1="31.46" x2="175.7" y2="31.46" stroke="#484848" stroke-width="0.8"/>
<line x1="177" y1="26.78" x2="175.7" y2="26.78" stroke="#484848" stroke-width="0.8"/>
<line x1="177" y1="23.16" x2="175.7" y2="23.16" stroke="#484848" stroke-width="0.8"/>
<line x1="177" y1="20.2" x2="175.7" y2="20.2" stroke="#484848" stroke-width="0.8"/>
<line x1="177" y1="17.69" x2="175.7" y2="17.69" stroke="#484848" stroke-width="0.8"/>
<line x1="177" y1="15.52" x2="175.7" y2="15.52" stroke="#484848" stroke-width="0.8"/>
<line x1="177" y1="13.61" x2="175.7" y2="13.61" stroke="#484848" stroke-width="0.8"/>
<rect x="180.6" y="16.3" width="64.5" height="39" rx="2" ry="2" fill="#ffffff" fill-opacity="0.9" stroke="#dcdcdc" stroke-width="0.8"/>
<line x1="183.1" y1="23.3" x2="194.1" y2="23.3" stroke="#ff0000" stroke-width="1.5"/>
<text class="u" x="200" y="26.2" font-family='"Liberation Sans", sans-serif' font-size="8.35" fill="#1a1a1a">H</text>
<line x1="183.1" y1="34.7" x2="194.1" y2="34.7" stroke="#0000ff" stroke-width="1.5"/>
<text class="u" x="200" y="37.6" font-family='"Liberation Sans", sans-serif' font-size="8.35" fill="#1a1a1a">D</text>
<line x1="183.1" y1="46.5" x2="194.1" y2="46.5" stroke="#ff00ff" stroke-width="1.5"/>
<text class="u" x="200" y="49.4" font-family='"Liberation Sans", sans-serif' font-size="8.35" fill="#1a1a1a">T</text>
<line x1="214.1" y1="23.3" x2="225.1" y2="23.3" stroke="#00c8d2" stroke-width="1.5"/>
<text class="u" x="231" y="26.2" font-family='"Liberation Sans", sans-serif' font-size="8.35" fill="#1a1a1a">He</text>
<line x1="214.1" y1="34.7" x2="225.1" y2="34.7" stroke="#00b400" stroke-width="1.5"/>
<text class="u" x="231" y="37.6" font-family='"Liberation Sans", sans-serif' font-size="8.35" fill="#1a1a1a">Be</text>
<line x1="214.1" y1="46.5" x2="225.1" y2="46.5" stroke="#ff7f0e" stroke-width="1.5"/>
<text class="u" x="231" y="49.4" font-family='"Liberation Sans", sans-serif' font-size="8.35" fill="#1a1a1a">W</text>
<text x="182.72" y="170.8" font-family='"Liberation Serif", serif' font-size="8.6" fill="#2a2a2a">10</text>
<text x="191.74" y="167.6" font-family='"Liberation Serif", serif' font-size="6.2" fill="#2a2a2a">1</text>
<text x="225.72" y="170.8" font-family='"Liberation Serif", serif' font-size="8.6" fill="#2a2a2a">10</text>
<text x="234.74" y="167.6" font-family='"Liberation Serif", serif' font-size="6.2" fill="#2a2a2a">2</text>
<text x="268.72" y="170.8" font-family='"Liberation Serif", serif' font-size="8.6" fill="#2a2a2a">10</text>
<text x="277.74" y="167.6" font-family='"Liberation Serif", serif' font-size="6.2" fill="#2a2a2a">3</text>
<text x="169.04" y="161.6" font-family='"Liberation Serif", serif' font-size="6.2" fill="#2a2a2a">3</text>
<line x1="164.7" y1="159.4" x2="168.8" y2="159.4" stroke="#2a2a2a" stroke-width="0.55"/>
<text x="155.94" y="164.6" font-family='"Liberation Serif", serif' font-size="8.6" fill="#2a2a2a">10</text>
<text x="169.04" y="124.2" font-family='"Liberation Serif", serif' font-size="6.2" fill="#2a2a2a">2</text>
<line x1="164.7" y1="122" x2="168.8" y2="122" stroke="#2a2a2a" stroke-width="0.55"/>
<text x="155.94" y="127.2" font-family='"Liberation Serif", serif' font-size="8.6" fill="#2a2a2a">10</text>
<text x="169.04" y="86.8" font-family='"Liberation Serif", serif' font-size="6.2" fill="#2a2a2a">1</text>
<line x1="164.7" y1="84.6" x2="168.8" y2="84.6" stroke="#2a2a2a" stroke-width="0.55"/>
<text x="155.94" y="89.8" font-family='"Liberation Serif", serif' font-size="8.6" fill="#2a2a2a">10</text>
<text x="170.05" y="49.4" font-family='"Liberation Serif", serif' font-size="6.2" fill="#2a2a2a">0</text>
<text x="160.84" y="52.4" font-family='"Liberation Serif", serif' font-size="8.6" fill="#2a2a2a">10</text>
<text x="170.05" y="12" font-family='"Liberation Serif", serif' font-size="6.2" fill="#2a2a2a">1</text>
<text x="160.84" y="15" font-family='"Liberation Serif", serif' font-size="8.6" fill="#2a2a2a">10</text>
<text class="t" x="193.79" y="8.75" font-family='"Liberation Sans", sans-serif' font-size="9.8" fill="#000000" textLength="63.66" lengthAdjust="spacingAndGlyphs">W sputt. yield</text>
<text x="261.64" y="8.75" font-family='"Liberation Serif", serif' font-size="11.0" fill="#000000" font-style="italic" textLength="24.84" lengthAdjust="spacing">Y<tspan font-style="normal">(</tspan>E<tspan font-style="normal">)</tspan></text>
<text class="u" x="200.22" y="181.9" font-family='"Liberation Sans", sans-serif' font-size="8.6" fill="#000000" textLength="51.99" lengthAdjust="spacingAndGlyphs">impact energy</text>
<text x="256.01" y="181.5" font-family='"Liberation Serif", serif' font-size="9.3" fill="#000000" font-style="italic" textLength="6.72" lengthAdjust="spacingAndGlyphs">E</text>
<text x="265.62" y="181.5" font-family='"Liberation Sans", sans-serif' font-size="9.2" fill="#000000" textLength="14.75" lengthAdjust="spacingAndGlyphs">[eV]</text>
<text x="220.7" y="204.4" font-family='"Liberation Serif", serif' font-size="14.9" fill="#000" font-weight="bold" textLength="5" lengthAdjust="spacingAndGlyphs">(</text>
<text x="226.34" y="203.4" font-family='"Liberation Serif", serif' font-size="11.9" fill="#000" font-weight="bold" textLength="9.16" lengthAdjust="spacingAndGlyphs">b</text>
<text x="235.75" y="204.4" font-family='"Liberation Serif", serif' font-size="14.9" fill="#000" font-weight="bold" textLength="5" lengthAdjust="spacingAndGlyphs">)</text>
<line x1="327.5" y1="11.5" x2="327.5" y2="161.5" stroke="#dedede" stroke-width="0.8"/>
<line x1="370.83" y1="11.5" x2="370.83" y2="161.5" stroke="#dedede" stroke-width="0.8"/>
<line x1="414.17" y1="11.5" x2="414.17" y2="161.5" stroke="#dedede" stroke-width="0.8"/>
<line x1="457.5" y1="11.5" x2="457.5" y2="161.5" stroke="#dedede" stroke-width="0.8"/>
<line x1="327.5" y1="161.5" x2="457.5" y2="161.5" stroke="#dedede" stroke-width="0.8"/>
<line x1="327.5" y1="131.5" x2="457.5" y2="131.5" stroke="#dedede" stroke-width="0.8"/>
<line x1="327.5" y1="101.5" x2="457.5" y2="101.5" stroke="#dedede" stroke-width="0.8"/>
<line x1="327.5" y1="71.5" x2="457.5" y2="71.5" stroke="#dedede" stroke-width="0.8"/>
<line x1="327.5" y1="41.5" x2="457.5" y2="41.5" stroke="#dedede" stroke-width="0.8"/>
<line x1="327.5" y1="11.5" x2="457.5" y2="11.5" stroke="#dedede" stroke-width="0.8"/>
<path d="M327.5,160.3 C335.23,160.07 343.24,159.88 350.7,159.6 C357.64,159.34 364.69,159.16 370.8,158.7 C375.95,158.31 380.68,157.73 385,157.2 C388.63,156.75 391.12,156.41 395,155.8 C400.43,154.95 408.79,153.6 414.5,152.4 C419.03,151.44 422.87,150.34 426.6,149.4 C429.82,148.59 433.13,147.16 435.6,147.1 C437.32,147.06 438.64,147.22 440,148 C441.66,148.95 443.16,151.23 444.5,153 C445.82,154.74 446.84,157.11 448,158.5 C448.84,159.5 449.34,160.3 450.5,160.8 C452.16,161.52 455.17,161.13 457.5,161.3" fill="none" stroke="#ff0000" stroke-width="1.5" stroke-linejoin="round"/>
<path d="M327.5,160.3 C335.23,160.07 343.25,159.9 350.7,159.6 C357.64,159.32 364.69,159.1 370.8,158.6 C375.95,158.18 380.69,157.59 385,157 C388.63,156.51 391.12,156.1 395,155.4 C400.43,154.42 408.8,152.94 414.5,151.5 C419.04,150.35 422.85,148.85 426.6,147.8 C429.81,146.9 433.1,145.4 435.6,145.5 C437.43,145.57 438.91,146.11 440.3,147.1 C441.94,148.27 443.15,150.63 444.5,152.5 C445.89,154.42 447.24,157.02 448.5,158.5 C449.37,159.51 449.86,160.3 451,160.8 C452.58,161.49 455.33,161.13 457.5,161.3" fill="none" stroke="#0000ff" stroke-width="1.5" stroke-linejoin="round"/>
<path d="M327.5,160.3 C335.23,160.07 343.25,159.92 350.7,159.6 C357.64,159.31 364.69,159.03 370.8,158.5 C375.95,158.05 380.69,157.4 385,156.8 C388.63,156.29 391.13,155.95 395,155.2 C400.44,154.15 408.83,152.53 414.5,150.8 C419.07,149.41 422.83,147.29 426.6,146.1 C429.79,145.1 433.17,143.88 435.6,143.9 C437.27,143.91 438.51,144.1 439.8,145 C441.58,146.25 442.92,149.39 444.5,151.8 C446.24,154.46 448.2,159 449.8,160.3 C450.57,160.93 451.08,160.92 452,161.1 C453.4,161.37 455.67,161.23 457.5,161.3" fill="none" stroke="#ff00ff" stroke-width="1.5" stroke-linejoin="round"/>
<path d="M327.5,160.3 C335.23,160.03 343.25,159.83 350.7,159.5 C357.64,159.19 364.69,158.95 370.8,158.4 C375.95,157.93 380.69,157.22 385,156.6 C388.63,156.08 391.13,155.73 395,155 C400.44,153.98 408.74,151.53 414.5,150.8 C418.98,150.23 422.95,150.05 426.6,150.3 C429.67,150.51 432.61,150.81 435,151.8 C437.08,152.66 438.58,154.13 440.3,155.5 C442.11,156.94 444.1,159.42 445.6,160.3 C446.49,160.82 446.92,160.91 448,161.1 C450.1,161.46 454.33,161.23 457.5,161.3" fill="none" stroke="#00c8d2" stroke-width="1.5" stroke-linejoin="round"/>
<path d="M327.5,160.3 C335.23,160.03 343.25,159.83 350.7,159.5 C357.64,159.19 364.69,158.95 370.8,158.4 C375.95,157.93 380.69,157.22 385,156.6 C388.63,156.08 391.12,155.71 395,155 C400.43,154.01 408.75,151.63 414.5,151 C418.99,150.51 422.97,150.28 426.6,150.8 C429.69,151.24 432.47,152.21 435,153.4 C437.36,154.51 439.37,156.31 441.4,157.6 C443.21,158.75 444.99,160.22 446.6,160.8 C447.8,161.24 448.64,161.2 450,161.3 C452.01,161.45 455,161.3 457.5,161.3" fill="none" stroke="#00b400" stroke-width="1.5" stroke-linejoin="round"/>
<path d="M327.5,160 L340,159 L354.2,157.3 L370.5,153.4 L384.6,145.4 L399.8,130.6 L414.3,101.7 L421.4,84.5 L428.6,61.6 L435.7,27.2 L440,18.6 L442.9,28.6 L445.7,53 L448.6,78.8 L451.4,98.8 L455.7,111.7 L457.5,113.5" fill="none" stroke="#ff7f0e" stroke-width="1.5" stroke-linejoin="round"/>
<rect x="327.5" y="11.5" width="130" height="150" fill="none" stroke="#b4b4b4" stroke-width="1"/>
<line x1="327.5" y1="160.9" x2="327.5" y2="163.2" stroke="#484848" stroke-width="0.9"/>
<line x1="370.83" y1="160.9" x2="370.83" y2="163.2" stroke="#484848" stroke-width="0.9"/>
<line x1="414.17" y1="160.9" x2="414.17" y2="163.2" stroke="#484848" stroke-width="0.9"/>
<line x1="457.5" y1="160.9" x2="457.5" y2="163.2" stroke="#484848" stroke-width="0.9"/>
<line x1="328.1" y1="161.5" x2="325.8" y2="161.5" stroke="#484848" stroke-width="0.9"/>
<line x1="328.1" y1="131.5" x2="325.8" y2="131.5" stroke="#484848" stroke-width="0.9"/>
<line x1="328.1" y1="101.5" x2="325.8" y2="101.5" stroke="#484848" stroke-width="0.9"/>
<line x1="328.1" y1="71.5" x2="325.8" y2="71.5" stroke="#484848" stroke-width="0.9"/>
<line x1="328.1" y1="41.5" x2="325.8" y2="41.5" stroke="#484848" stroke-width="0.9"/>
<line x1="328.1" y1="11.5" x2="325.8" y2="11.5" stroke="#484848" stroke-width="0.9"/>
<rect x="332.5" y="16.5" width="64.7" height="37.6" rx="2" ry="2" fill="#ffffff" fill-opacity="0.9" stroke="#dcdcdc" stroke-width="0.8"/>
<line x1="335" y1="23.5" x2="346" y2="23.5" stroke="#ff0000" stroke-width="1.5"/>
<text class="u" x="351.9" y="26.4" font-family='"Liberation Sans", sans-serif' font-size="8.35" fill="#1a1a1a">H</text>
<line x1="335" y1="34.9" x2="346" y2="34.9" stroke="#0000ff" stroke-width="1.5"/>
<text class="u" x="351.9" y="37.8" font-family='"Liberation Sans", sans-serif' font-size="8.35" fill="#1a1a1a">D</text>
<line x1="335" y1="46.7" x2="346" y2="46.7" stroke="#ff00ff" stroke-width="1.5"/>
<text class="u" x="351.9" y="49.6" font-family='"Liberation Sans", sans-serif' font-size="8.35" fill="#1a1a1a">T</text>
<line x1="366" y1="23.5" x2="377" y2="23.5" stroke="#00c8d2" stroke-width="1.5"/>
<text class="u" x="382.9" y="26.4" font-family='"Liberation Sans", sans-serif' font-size="8.35" fill="#1a1a1a">He</text>
<line x1="366" y1="34.9" x2="377" y2="34.9" stroke="#00b400" stroke-width="1.5"/>
<text class="u" x="382.9" y="37.8" font-family='"Liberation Sans", sans-serif' font-size="8.35" fill="#1a1a1a">Be</text>
<line x1="366" y1="46.7" x2="377" y2="46.7" stroke="#ff7f0e" stroke-width="1.5"/>
<text class="u" x="382.9" y="49.6" font-family='"Liberation Sans", sans-serif' font-size="8.35" fill="#1a1a1a">W</text>
<text x="327.5" y="170.9" font-family='"Liberation Serif", serif' font-size="8.6" fill="#2a2a2a" text-anchor="middle">0</text>
<text x="370.83" y="170.9" font-family='"Liberation Serif", serif' font-size="8.6" fill="#2a2a2a" text-anchor="middle">30</text>
<text x="414.17" y="170.9" font-family='"Liberation Serif", serif' font-size="8.6" fill="#2a2a2a" text-anchor="middle">60</text>
<text x="457.5" y="170.9" font-family='"Liberation Serif", serif' font-size="8.6" fill="#2a2a2a" text-anchor="middle">90</text>
<text x="323.2" y="164.6" font-family='"Liberation Serif", serif' font-size="8.6" fill="#2a2a2a" text-anchor="end">0</text>
<text x="323.2" y="134.6" font-family='"Liberation Serif", serif' font-size="8.6" fill="#2a2a2a" text-anchor="end">20</text>
<text x="323.2" y="104.6" font-family='"Liberation Serif", serif' font-size="8.6" fill="#2a2a2a" text-anchor="end">40</text>
<text x="323.2" y="74.6" font-family='"Liberation Serif", serif' font-size="8.6" fill="#2a2a2a" text-anchor="end">60</text>
<text x="323.2" y="44.6" font-family='"Liberation Serif", serif' font-size="8.6" fill="#2a2a2a" text-anchor="end">80</text>
<text x="323.2" y="14.6" font-family='"Liberation Serif", serif' font-size="8.6" fill="#2a2a2a" text-anchor="end">100</text>
<text class="t" x="330.97" y="8.75" font-family='"Liberation Sans", sans-serif' font-size="9.8" fill="#000000" textLength="64.96" lengthAdjust="spacingAndGlyphs">Be sputt. yield</text>
<text x="401.14" y="8.75" font-family='"Liberation Serif", serif' font-size="11.0" fill="#000000" font-style="italic" textLength="49.75" lengthAdjust="spacing">Y<tspan font-style="normal">(</tspan>θ<tspan font-style="normal">)</tspan><tspan font-style="normal">/</tspan>Y<tspan font-style="normal">(</tspan><tspan font-style="normal">0</tspan><tspan font-style="normal">)</tspan></text>
<text class="u" x="358.16" y="181.9" font-family='"Liberation Sans", sans-serif' font-size="8.6" fill="#000000" textLength="47.98" lengthAdjust="spacingAndGlyphs">impact angle</text>
<text x="408.39" y="181.5" font-family='"Liberation Serif", serif' font-size="9.3" fill="#000000" font-style="italic" textLength="5.03" lengthAdjust="spacingAndGlyphs">θ</text>
<text x="416.49" y="181.5" font-family='"Liberation Sans", sans-serif' font-size="9.2" fill="#000000" textLength="8.38" lengthAdjust="spacingAndGlyphs">[°]</text>
<text x="376.7" y="204.4" font-family='"Liberation Serif", serif' font-size="14.9" fill="#000" font-weight="bold" textLength="5" lengthAdjust="spacingAndGlyphs">(</text>
<text x="382" y="203.4" font-family='"Liberation Serif", serif' font-size="11.9" fill="#000" font-weight="bold" textLength="7.4" lengthAdjust="spacingAndGlyphs">c</text>
<text x="389.85" y="204.4" font-family='"Liberation Serif", serif' font-size="14.9" fill="#000" font-weight="bold" textLength="5" lengthAdjust="spacingAndGlyphs">)</text>
<line x1="481.5" y1="11.5" x2="481.5" y2="161.5" stroke="#dedede" stroke-width="0.8"/>
<line x1="525.17" y1="11.5" x2="525.17" y2="161.5" stroke="#dedede" stroke-width="0.8"/>
<line x1="568.83" y1="11.5" x2="568.83" y2="161.5" stroke="#dedede" stroke-width="0.8"/>
<line x1="612.5" y1="11.5" x2="612.5" y2="161.5" stroke="#dedede" stroke-width="0.8"/>
<line x1="481.5" y1="161.5" x2="612.5" y2="161.5" stroke="#dedede" stroke-width="0.8"/>
<line x1="481.5" y1="137.8" x2="612.5" y2="137.8" stroke="#dedede" stroke-width="0.8"/>
<line x1="481.5" y1="114.11" x2="612.5" y2="114.11" stroke="#dedede" stroke-width="0.8"/>
<line x1="481.5" y1="90.41" x2="612.5" y2="90.41" stroke="#dedede" stroke-width="0.8"/>
<line x1="481.5" y1="66.71" x2="612.5" y2="66.71" stroke="#dedede" stroke-width="0.8"/>
<line x1="481.5" y1="43.02" x2="612.5" y2="43.02" stroke="#dedede" stroke-width="0.8"/>
<line x1="481.5" y1="19.32" x2="612.5" y2="19.32" stroke="#dedede" stroke-width="0.8"/>
<path d="M481.5,114.2 L483.7,114.4 L485.87,114.52 L488,114.58 L490.11,114.57 L492.2,114.5 L494.26,114.37 L496.3,114.18 L498.32,113.95 L500.32,113.67 L502.31,113.36 L504.28,113 L506.24,112.61 L508.19,112.2 L510.14,111.75 L512.08,111.29 L514.01,110.81 L515.94,110.32 L517.87,109.83 L519.81,109.32 L521.74,108.82 L523.69,108.32 L525.64,107.84 L527.6,107.36 L529.57,106.9 L531.56,106.46 L533.56,106.05 L535.58,105.66 L537.62,105.31 L539.68,105 L541.76,104.72 L543.86,104.5 L545.98,104.32 L548.1,104.19 L550.22,104.13 L552.34,104.13 L554.45,104.19 L556.54,104.33 L558.61,104.54 L560.65,104.83 L562.65,105.2 L564.61,105.66 L566.53,106.22 L568.39,106.86 L570.2,107.61 L571.94,108.47 L573.61,109.43 L575.2,110.51 L576.71,111.7 L578.14,113.01 L579.5,114.42 L580.78,115.93 L582,117.52 L583.17,119.19 L584.28,120.94 L585.34,122.74 L586.36,124.6 L587.35,126.5 L588.31,128.43 L589.25,130.39 L590.17,132.37 L591.07,134.36 L591.97,136.35 L592.87,138.33 L593.78,140.29 L594.69,142.23 L595.62,144.14 L596.58,146 L597.56,147.81 L598.58,149.56 L599.63,151.24 L600.74,152.84 L601.89,154.36 L603.1,155.78 L604.39,157.08 L605.76,158.26 L607.24,159.29 L608.84,160.15 L610.59,160.83 L612.49,161.31" fill="none" stroke="#ff0000" stroke-width="1.5" stroke-linejoin="round"/>
<path d="M481.5,114.2 L483.34,114.48 L485.21,114.67 L487.1,114.77 L489.02,114.79 L490.96,114.73 L492.93,114.6 L494.91,114.41 L496.92,114.15 L498.94,113.83 L500.98,113.46 L503.04,113.05 L505.11,112.59 L507.19,112.1 L509.28,111.58 L511.38,111.03 L513.48,110.46 L515.6,109.87 L517.71,109.28 L519.83,108.68 L521.95,108.08 L524.07,107.49 L526.19,106.9 L528.31,106.33 L530.42,105.79 L532.52,105.27 L534.62,104.78 L536.7,104.32 L538.78,103.91 L540.84,103.55 L542.89,103.23 L544.92,102.98 L546.93,102.78 L548.93,102.66 L550.91,102.6 L552.86,102.63 L554.79,102.74 L556.7,102.93 L558.58,103.22 L560.43,103.61 L562.25,104.1 L564.04,104.7 L565.8,105.41 L567.53,106.23 L569.22,107.16 L570.87,108.19 L572.49,109.31 L574.08,110.52 L575.62,111.82 L577.13,113.2 L578.59,114.65 L580.02,116.18 L581.4,117.77 L582.75,119.42 L584.05,121.13 L585.3,122.89 L586.51,124.7 L587.68,126.54 L588.8,128.43 L589.87,130.34 L590.89,132.28 L591.86,134.25 L592.79,136.23 L593.66,138.22 L594.48,140.22 L595.27,142.22 L596.03,144.19 L596.8,146.13 L597.58,148.02 L598.39,149.84 L599.26,151.59 L600.21,153.24 L601.24,154.78 L602.38,156.2 L603.64,157.48 L605.05,158.61 L606.62,159.57 L608.38,160.35 L610.33,160.94 L612.5,161.31" fill="none" stroke="#0000ff" stroke-width="1.5" stroke-linejoin="round"/>
<path d="M481.5,114.2 L483.68,114.37 L485.84,114.48 L487.96,114.52 L490.06,114.51 L492.14,114.43 L494.19,114.31 L496.23,114.13 L498.24,113.92 L500.24,113.66 L502.23,113.36 L504.2,113.03 L506.17,112.67 L508.12,112.28 L510.07,111.87 L512.01,111.44 L513.94,111 L515.88,110.55 L517.81,110.08 L519.75,109.62 L521.69,109.15 L523.64,108.69 L525.6,108.23 L527.56,107.79 L529.53,107.36 L531.52,106.94 L533.52,106.55 L535.54,106.19 L537.58,105.85 L539.64,105.55 L541.72,105.29 L543.81,105.06 L545.92,104.88 L548.04,104.75 L550.16,104.68 L552.27,104.66 L554.37,104.71 L556.46,104.82 L558.52,105.01 L560.56,105.27 L562.56,105.61 L564.52,106.03 L566.44,106.55 L568.31,107.16 L570.13,107.86 L571.88,108.67 L573.57,109.58 L575.18,110.61 L576.71,111.75 L578.16,113 L579.54,114.37 L580.84,115.84 L582.08,117.39 L583.25,119.04 L584.38,120.75 L585.45,122.53 L586.48,124.37 L587.48,126.26 L588.44,128.18 L589.38,130.13 L590.3,132.1 L591.21,134.09 L592.11,136.08 L593.01,138.06 L593.92,140.02 L594.84,141.97 L595.77,143.87 L596.73,145.74 L597.71,147.56 L598.73,149.31 L599.79,151 L600.9,152.61 L602.06,154.13 L603.28,155.56 L604.56,156.88 L605.93,158.08 L607.39,159.13 L608.96,160.04 L610.66,160.77 L612.49,161.31" fill="none" stroke="#ff00ff" stroke-width="1.5" stroke-linejoin="round"/>
<path d="M481.5,114.2 L483.62,114.25 L485.72,114.26 L487.79,114.24 L489.85,114.18 L491.89,114.08 L493.91,113.96 L495.91,113.81 L497.9,113.63 L499.88,113.44 L501.85,113.21 L503.81,112.97 L505.75,112.72 L507.7,112.45 L509.63,112.17 L511.57,111.87 L513.5,111.57 L515.43,111.27 L517.36,110.96 L519.29,110.65 L521.23,110.34 L523.17,110.03 L525.12,109.73 L527.08,109.44 L529.05,109.16 L531.02,108.89 L533.01,108.64 L535.02,108.4 L537.04,108.19 L539.07,107.99 L541.13,107.82 L543.2,107.68 L545.28,107.57 L547.36,107.5 L549.45,107.47 L551.52,107.49 L553.59,107.57 L555.63,107.72 L557.66,107.92 L559.65,108.21 L561.61,108.57 L563.52,109.01 L565.39,109.55 L567.21,110.18 L568.96,110.91 L570.66,111.75 L572.28,112.7 L573.83,113.77 L575.3,114.96 L576.69,116.26 L578.02,117.66 L579.29,119.16 L580.5,120.73 L581.66,122.38 L582.78,124.1 L583.85,125.87 L584.89,127.69 L585.89,129.56 L586.88,131.45 L587.84,133.36 L588.79,135.28 L589.73,137.21 L590.67,139.14 L591.61,141.05 L592.55,142.94 L593.51,144.79 L594.48,146.61 L595.48,148.37 L596.51,150.08 L597.57,151.72 L598.67,153.28 L599.81,154.76 L601.01,156.14 L602.28,157.4 L603.65,158.51 L605.13,159.47 L606.73,160.25 L608.48,160.83 L610.4,161.19 L612.49,161.31" fill="none" stroke="#00c8d2" stroke-width="1.5" stroke-linejoin="round"/>
<path d="M481.5,114.2 L483.62,114.24 L485.72,114.25 L487.81,114.23 L489.87,114.17 L491.92,114.08 L493.95,113.95 L495.97,113.8 L497.98,113.63 L499.97,113.42 L501.95,113.19 L503.92,112.94 L505.89,112.67 L507.85,112.37 L509.8,112.06 L511.75,111.73 L513.69,111.38 L515.63,111.02 L517.58,110.65 L519.52,110.27 L521.46,109.87 L523.41,109.47 L525.36,109.06 L527.32,108.64 L529.28,108.22 L531.26,107.8 L533.24,107.37 L535.23,106.95 L537.23,106.52 L539.25,106.1 L541.28,105.69 L543.33,105.28 L545.39,104.88 L547.47,104.48 L549.57,104.1 L551.68,103.74 L553.8,103.41 L555.91,103.11 L558.02,102.86 L560.11,102.67 L562.18,102.54 L564.23,102.49 L566.23,102.52 L568.2,102.64 L570.12,102.86 L571.98,103.19 L573.78,103.64 L575.52,104.21 L577.17,104.92 L578.76,105.77 L580.27,106.75 L581.72,107.85 L583.1,109.05 L584.42,110.37 L585.69,111.77 L586.91,113.27 L588.09,114.85 L589.22,116.49 L590.32,118.2 L591.38,119.97 L592.42,121.78 L593.43,123.63 L594.42,125.52 L595.4,127.42 L596.37,129.34 L597.33,131.27 L598.28,133.2 L599.24,135.11 L600.21,137.01 L601.19,138.88 L602.18,140.72 L603.19,142.52 L604.22,144.26 L605.29,145.95 L606.38,147.58 L607.51,149.12 L608.68,150.59 L609.9,151.96 L611.17,153.24 L612.49,154.41" fill="none" stroke="#00b400" stroke-width="1.5" stroke-linejoin="round"/>
<path d="M481.5,114.2 L495.7,108.5 L510.2,91.9 L525.9,66.4 L540.3,42.8 L554.3,22.9 L561.5,18.6 L568.7,20 L575.9,28.6 L583,43 L590.2,64.4 L597.4,87.4 L603.1,106 L607.4,116 L612.5,124" fill="none" stroke="#ff7f0e" stroke-width="1.5" stroke-linejoin="round"/>
<rect x="481.5" y="11.5" width="131" height="150" fill="none" stroke="#b4b4b4" stroke-width="1"/>
<line x1="481.5" y1="160.9" x2="481.5" y2="163.2" stroke="#484848" stroke-width="0.9"/>
<line x1="525.17" y1="160.9" x2="525.17" y2="163.2" stroke="#484848" stroke-width="0.9"/>
<line x1="568.83" y1="160.9" x2="568.83" y2="163.2" stroke="#484848" stroke-width="0.9"/>
<line x1="612.5" y1="160.9" x2="612.5" y2="163.2" stroke="#484848" stroke-width="0.9"/>
<line x1="482.1" y1="161.5" x2="479.8" y2="161.5" stroke="#484848" stroke-width="0.9"/>
<line x1="482.1" y1="137.8" x2="479.8" y2="137.8" stroke="#484848" stroke-width="0.9"/>
<line x1="482.1" y1="114.11" x2="479.8" y2="114.11" stroke="#484848" stroke-width="0.9"/>
<line x1="482.1" y1="90.41" x2="479.8" y2="90.41" stroke="#484848" stroke-width="0.9"/>
<line x1="482.1" y1="66.71" x2="479.8" y2="66.71" stroke="#484848" stroke-width="0.9"/>
<line x1="482.1" y1="43.02" x2="479.8" y2="43.02" stroke="#484848" stroke-width="0.9"/>
<line x1="482.1" y1="19.32" x2="479.8" y2="19.32" stroke="#484848" stroke-width="0.9"/>
<rect x="486.1" y="118.2" width="64.5" height="38.5" rx="2" ry="2" fill="#ffffff" fill-opacity="0.9" stroke="#dcdcdc" stroke-width="0.8"/>
<line x1="488.6" y1="125.2" x2="499.6" y2="125.2" stroke="#ff0000" stroke-width="1.5"/>
<text class="u" x="505.5" y="128.1" font-family='"Liberation Sans", sans-serif' font-size="8.35" fill="#1a1a1a">H</text>
<line x1="488.6" y1="136.6" x2="499.6" y2="136.6" stroke="#0000ff" stroke-width="1.5"/>
<text class="u" x="505.5" y="139.5" font-family='"Liberation Sans", sans-serif' font-size="8.35" fill="#1a1a1a">D</text>
<line x1="488.6" y1="148.4" x2="499.6" y2="148.4" stroke="#ff00ff" stroke-width="1.5"/>
<text class="u" x="505.5" y="151.3" font-family='"Liberation Sans", sans-serif' font-size="8.35" fill="#1a1a1a">T</text>
<line x1="519.6" y1="125.2" x2="530.6" y2="125.2" stroke="#00c8d2" stroke-width="1.5"/>
<text class="u" x="536.5" y="128.1" font-family='"Liberation Sans", sans-serif' font-size="8.35" fill="#1a1a1a">He</text>
<line x1="519.6" y1="136.6" x2="530.6" y2="136.6" stroke="#00b400" stroke-width="1.5"/>
<text class="u" x="536.5" y="139.5" font-family='"Liberation Sans", sans-serif' font-size="8.35" fill="#1a1a1a">Be</text>
<line x1="519.6" y1="148.4" x2="530.6" y2="148.4" stroke="#ff7f0e" stroke-width="1.5"/>
<text class="u" x="536.5" y="151.3" font-family='"Liberation Sans", sans-serif' font-size="8.35" fill="#1a1a1a">W</text>
<text x="481.5" y="170.9" font-family='"Liberation Serif", serif' font-size="8.6" fill="#2a2a2a" text-anchor="middle">0</text>
<text x="525.17" y="170.9" font-family='"Liberation Serif", serif' font-size="8.6" fill="#2a2a2a" text-anchor="middle">30</text>
<text x="568.83" y="170.9" font-family='"Liberation Serif", serif' font-size="8.6" fill="#2a2a2a" text-anchor="middle">60</text>
<text x="612.5" y="170.9" font-family='"Liberation Serif", serif' font-size="8.6" fill="#2a2a2a" text-anchor="middle">90</text>
<text x="477.9" y="164.6" font-family='"Liberation Serif", serif' font-size="8.6" fill="#2a2a2a" text-anchor="end">0.0</text>
<text x="477.9" y="140.9" font-family='"Liberation Serif", serif' font-size="8.6" fill="#2a2a2a" text-anchor="end">0.5</text>
<text x="477.9" y="117.21" font-family='"Liberation Serif", serif' font-size="8.6" fill="#2a2a2a" text-anchor="end">1.0</text>
<text x="477.9" y="93.51" font-family='"Liberation Serif", serif' font-size="8.6" fill="#2a2a2a" text-anchor="end">1.5</text>
<text x="477.9" y="69.81" font-family='"Liberation Serif", serif' font-size="8.6" fill="#2a2a2a" text-anchor="end">2.0</text>
<text x="477.9" y="46.12" font-family='"Liberation Serif", serif' font-size="8.6" fill="#2a2a2a" text-anchor="end">2.5</text>
<text x="477.9" y="22.42" font-family='"Liberation Serif", serif' font-size="8.6" fill="#2a2a2a" text-anchor="end">3.0</text>
<text class="t" x="487.7" y="8.75" font-family='"Liberation Sans", sans-serif' font-size="9.8" fill="#000000" textLength="61.74" lengthAdjust="spacingAndGlyphs">W sputt. yield</text>
<text x="554.94" y="8.75" font-family='"Liberation Serif", serif' font-size="11.0" fill="#000000" font-style="italic" textLength="48.95" lengthAdjust="spacing">Y<tspan font-style="normal">(</tspan>θ<tspan font-style="normal">)</tspan><tspan font-style="normal">/</tspan>Y<tspan font-style="normal">(</tspan><tspan font-style="normal">0</tspan><tspan font-style="normal">)</tspan></text>
<text class="u" x="512.66" y="181.9" font-family='"Liberation Sans", sans-serif' font-size="8.6" fill="#000000" textLength="47.98" lengthAdjust="spacingAndGlyphs">impact angle</text>
<text x="562.89" y="181.5" font-family='"Liberation Serif", serif' font-size="9.3" fill="#000000" font-style="italic" textLength="5.03" lengthAdjust="spacingAndGlyphs">θ</text>
<text x="570.99" y="181.5" font-family='"Liberation Sans", sans-serif' font-size="9.2" fill="#000000" textLength="8.38" lengthAdjust="spacingAndGlyphs">[°]</text>
<text x="531.4" y="204.4" font-family='"Liberation Serif", serif' font-size="14.9" fill="#000" font-weight="bold" textLength="5" lengthAdjust="spacingAndGlyphs">(</text>
<text x="536.55" y="203.4" font-family='"Liberation Serif", serif' font-size="11.9" fill="#000" font-weight="bold" textLength="9.01" lengthAdjust="spacingAndGlyphs">d</text>
<text x="546.15" y="204.4" font-family='"Liberation Serif", serif' font-size="14.9" fill="#000" font-weight="bold" textLength="5" lengthAdjust="spacingAndGlyphs">)</text>
<line x1="33.44" y1="223.5" x2="33.44" y2="372.5" stroke="#dedede" stroke-width="0.8"/>
<line x1="76.44" y1="223.5" x2="76.44" y2="372.5" stroke="#dedede" stroke-width="0.8"/>
<line x1="119.44" y1="223.5" x2="119.44" y2="372.5" stroke="#dedede" stroke-width="0.8"/>
<line x1="20.5" y1="372.5" x2="149.5" y2="372.5" stroke="#dedede" stroke-width="0.8"/>
<line x1="20.5" y1="335.25" x2="149.5" y2="335.25" stroke="#dedede" stroke-width="0.8"/>
<line x1="20.5" y1="298" x2="149.5" y2="298" stroke="#dedede" stroke-width="0.8"/>
<line x1="20.5" y1="260.75" x2="149.5" y2="260.75" stroke="#dedede" stroke-width="0.8"/>
<line x1="20.5" y1="223.5" x2="149.5" y2="223.5" stroke="#dedede" stroke-width="0.8"/>
<path d="M20.5,267.3 L33.6,268.4 L48.4,272.5 L76.7,279 L85,281.1 L99.3,285 L119.6,293.6 L132.2,302.9 L139.4,310.8 L149.5,321.2" fill="none" stroke="#ff0000" stroke-width="1.5" stroke-linejoin="round"/>
<path d="M20.5,272.2 L33.6,271.4 L48.4,275 L76.7,282.4 L85,285.4 L99.3,289.3 L119.6,297.2 L132.2,305.1 L149.5,320.6" fill="none" stroke="#0000ff" stroke-width="1.5" stroke-linejoin="round"/>
<path d="M20.5,278.4 L33.6,274.8 L48.4,279 L76.7,286.9 L85,289.7 L99.3,295 L119.6,301.8 L132.2,308.7 L149.5,323.5" fill="none" stroke="#ff00ff" stroke-width="1.5" stroke-linejoin="round"/>
<path d="M20.5,269.3 L33.6,269.3 L48.4,274.4 L65.4,282.4 L76.7,286.9 L85,289.3 L99.3,294.3 L119.6,301.5 L132.2,306.5 L149.5,317.3" fill="none" stroke="#00c8d2" stroke-width="1.5" stroke-linejoin="round"/>
<path d="M40.1,372.5 L46.2,325.5 L53.9,308.7 L57,305 L60.4,302.2 L64,300.8 L67.5,300.1 L73.6,300.5 L80.7,302.2 L85,304.4 L99.3,310.1 L119.6,316.5 L132.2,321.5 L149.5,330" fill="none" stroke="#00b400" stroke-width="1.5" stroke-linejoin="round"/>
<rect x="20.5" y="223.5" width="129" height="149" fill="none" stroke="#b4b4b4" stroke-width="1"/>
<line x1="33.44" y1="371.9" x2="33.44" y2="374.2" stroke="#484848" stroke-width="0.9"/>
<line x1="76.44" y1="371.9" x2="76.44" y2="374.2" stroke="#484848" stroke-width="0.9"/>
<line x1="119.44" y1="371.9" x2="119.44" y2="374.2" stroke="#484848" stroke-width="0.9"/>
<line x1="21.1" y1="372.5" x2="18.8" y2="372.5" stroke="#484848" stroke-width="0.9"/>
<line x1="21.1" y1="335.25" x2="18.8" y2="335.25" stroke="#484848" stroke-width="0.9"/>
<line x1="21.1" y1="298" x2="18.8" y2="298" stroke="#484848" stroke-width="0.9"/>
<line x1="21.1" y1="260.75" x2="18.8" y2="260.75" stroke="#484848" stroke-width="0.9"/>
<line x1="21.1" y1="223.5" x2="18.8" y2="223.5" stroke="#484848" stroke-width="0.9"/>
<line x1="20.5" y1="372" x2="20.5" y2="373.3" stroke="#484848" stroke-width="0.8"/>
<line x1="23.9" y1="372" x2="23.9" y2="373.3" stroke="#484848" stroke-width="0.8"/>
<line x1="26.78" y1="372" x2="26.78" y2="373.3" stroke="#484848" stroke-width="0.8"/>
<line x1="29.28" y1="372" x2="29.28" y2="373.3" stroke="#484848" stroke-width="0.8"/>
<line x1="31.48" y1="372" x2="31.48" y2="373.3" stroke="#484848" stroke-width="0.8"/>
<line x1="46.39" y1="372" x2="46.39" y2="373.3" stroke="#484848" stroke-width="0.8"/>
<line x1="53.96" y1="372" x2="53.96" y2="373.3" stroke="#484848" stroke-width="0.8"/>
<line x1="59.33" y1="372" x2="59.33" y2="373.3" stroke="#484848" stroke-width="0.8"/>
<line x1="63.5" y1="372" x2="63.5" y2="373.3" stroke="#484848" stroke-width="0.8"/>
<line x1="66.9" y1="372" x2="66.9" y2="373.3" stroke="#484848" stroke-width="0.8"/>
<line x1="69.78" y1="372" x2="69.78" y2="373.3" stroke="#484848" stroke-width="0.8"/>
<line x1="72.28" y1="372" x2="72.28" y2="373.3" stroke="#484848" stroke-width="0.8"/>
<line x1="74.48" y1="372" x2="74.48" y2="373.3" stroke="#484848" stroke-width="0.8"/>
<line x1="89.39" y1="372" x2="89.39" y2="373.3" stroke="#484848" stroke-width="0.8"/>
<line x1="96.96" y1="372" x2="96.96" y2="373.3" stroke="#484848" stroke-width="0.8"/>
<line x1="102.33" y1="372" x2="102.33" y2="373.3" stroke="#484848" stroke-width="0.8"/>
<line x1="106.5" y1="372" x2="106.5" y2="373.3" stroke="#484848" stroke-width="0.8"/>
<line x1="109.9" y1="372" x2="109.9" y2="373.3" stroke="#484848" stroke-width="0.8"/>
<line x1="112.78" y1="372" x2="112.78" y2="373.3" stroke="#484848" stroke-width="0.8"/>
<line x1="115.28" y1="372" x2="115.28" y2="373.3" stroke="#484848" stroke-width="0.8"/>
<line x1="117.48" y1="372" x2="117.48" y2="373.3" stroke="#484848" stroke-width="0.8"/>
<line x1="132.39" y1="372" x2="132.39" y2="373.3" stroke="#484848" stroke-width="0.8"/>
<line x1="139.96" y1="372" x2="139.96" y2="373.3" stroke="#484848" stroke-width="0.8"/>
<line x1="145.33" y1="372" x2="145.33" y2="373.3" stroke="#484848" stroke-width="0.8"/>
<line x1="149.5" y1="372" x2="149.5" y2="373.3" stroke="#484848" stroke-width="0.8"/>
<line x1="21" y1="361.29" x2="19.7" y2="361.29" stroke="#484848" stroke-width="0.8"/>
<line x1="21" y1="354.73" x2="19.7" y2="354.73" stroke="#484848" stroke-width="0.8"/>
<line x1="21" y1="350.07" x2="19.7" y2="350.07" stroke="#484848" stroke-width="0.8"/>
<line x1="21" y1="346.46" x2="19.7" y2="346.46" stroke="#484848" stroke-width="0.8"/>
<line x1="21" y1="343.51" x2="19.7" y2="343.51" stroke="#484848" stroke-width="0.8"/>
<line x1="21" y1="341.02" x2="19.7" y2="341.02" stroke="#484848" stroke-width="0.8"/>
<line x1="21" y1="338.86" x2="19.7" y2="338.86" stroke="#484848" stroke-width="0.8"/>
<line x1="21" y1="336.95" x2="19.7" y2="336.95" stroke="#484848" stroke-width="0.8"/>
<line x1="21" y1="324.04" x2="19.7" y2="324.04" stroke="#484848" stroke-width="0.8"/>
<line x1="21" y1="317.48" x2="19.7" y2="317.48" stroke="#484848" stroke-width="0.8"/>
<line x1="21" y1="312.82" x2="19.7" y2="312.82" stroke="#484848" stroke-width="0.8"/>
<line x1="21" y1="309.21" x2="19.7" y2="309.21" stroke="#484848" stroke-width="0.8"/>
<line x1="21" y1="306.26" x2="19.7" y2="306.26" stroke="#484848" stroke-width="0.8"/>
<line x1="21" y1="303.77" x2="19.7" y2="303.77" stroke="#484848" stroke-width="0.8"/>
<line x1="21" y1="301.61" x2="19.7" y2="301.61" stroke="#484848" stroke-width="0.8"/>
<line x1="21" y1="299.7" x2="19.7" y2="299.7" stroke="#484848" stroke-width="0.8"/>
<line x1="21" y1="286.79" x2="19.7" y2="286.79" stroke="#484848" stroke-width="0.8"/>
<line x1="21" y1="280.23" x2="19.7" y2="280.23" stroke="#484848" stroke-width="0.8"/>
<line x1="21" y1="275.57" x2="19.7" y2="275.57" stroke="#484848" stroke-width="0.8"/>
<line x1="21" y1="271.96" x2="19.7" y2="271.96" stroke="#484848" stroke-width="0.8"/>
<line x1="21" y1="269.01" x2="19.7" y2="269.01" stroke="#484848" stroke-width="0.8"/>
<line x1="21" y1="266.52" x2="19.7" y2="266.52" stroke="#484848" stroke-width="0.8"/>
<line x1="21" y1="264.36" x2="19.7" y2="264.36" stroke="#484848" stroke-width="0.8"/>
<line x1="21" y1="262.45" x2="19.7" y2="262.45" stroke="#484848" stroke-width="0.8"/>
<line x1="21" y1="249.54" x2="19.7" y2="249.54" stroke="#484848" stroke-width="0.8"/>
<line x1="21" y1="242.98" x2="19.7" y2="242.98" stroke="#484848" stroke-width="0.8"/>
<line x1="21" y1="238.32" x2="19.7" y2="238.32" stroke="#484848" stroke-width="0.8"/>
<line x1="21" y1="234.71" x2="19.7" y2="234.71" stroke="#484848" stroke-width="0.8"/>
<line x1="21" y1="231.76" x2="19.7" y2="231.76" stroke="#484848" stroke-width="0.8"/>
<line x1="21" y1="229.27" x2="19.7" y2="229.27" stroke="#484848" stroke-width="0.8"/>
<line x1="21" y1="227.11" x2="19.7" y2="227.11" stroke="#484848" stroke-width="0.8"/>
<line x1="21" y1="225.2" x2="19.7" y2="225.2" stroke="#484848" stroke-width="0.8"/>
<rect x="80.7" y="227.9" width="64.7" height="38.3" rx="2" ry="2" fill="#ffffff" fill-opacity="0.9" stroke="#dcdcdc" stroke-width="0.8"/>
<line x1="83.2" y1="234.9" x2="94.2" y2="234.9" stroke="#ff0000" stroke-width="1.5"/>
<text class="u" x="100.1" y="237.8" font-family='"Liberation Sans", sans-serif' font-size="8.35" fill="#1a1a1a">H</text>
<line x1="83.2" y1="246.3" x2="94.2" y2="246.3" stroke="#0000ff" stroke-width="1.5"/>
<text class="u" x="100.1" y="249.2" font-family='"Liberation Sans", sans-serif' font-size="8.35" fill="#1a1a1a">D</text>
<line x1="83.2" y1="258.1" x2="94.2" y2="258.1" stroke="#ff00ff" stroke-width="1.5"/>
<text class="u" x="100.1" y="261" font-family='"Liberation Sans", sans-serif' font-size="8.35" fill="#1a1a1a">T</text>
<line x1="114.2" y1="234.9" x2="125.2" y2="234.9" stroke="#00c8d2" stroke-width="1.5"/>
<text class="u" x="131.1" y="237.8" font-family='"Liberation Sans", sans-serif' font-size="8.35" fill="#1a1a1a">He</text>
<line x1="114.2" y1="246.3" x2="125.2" y2="246.3" stroke="#00b400" stroke-width="1.5"/>
<text class="u" x="131.1" y="249.2" font-family='"Liberation Sans", sans-serif' font-size="8.35" fill="#1a1a1a">Be</text>
<text x="26.72" y="381.8" font-family='"Liberation Serif", serif' font-size="8.6" fill="#2a2a2a">10</text>
<text x="35.74" y="378.6" font-family='"Liberation Serif", serif' font-size="6.2" fill="#2a2a2a">1</text>
<text x="69.72" y="381.8" font-family='"Liberation Serif", serif' font-size="8.6" fill="#2a2a2a">10</text>
<text x="78.74" y="378.6" font-family='"Liberation Serif", serif' font-size="6.2" fill="#2a2a2a">2</text>
<text x="112.72" y="381.8" font-family='"Liberation Serif", serif' font-size="8.6" fill="#2a2a2a">10</text>
<text x="121.74" y="378.6" font-family='"Liberation Serif", serif' font-size="6.2" fill="#2a2a2a">3</text>
<text x="13.04" y="372.6" font-family='"Liberation Serif", serif' font-size="6.2" fill="#2a2a2a">3</text>
<line x1="8.7" y1="370.4" x2="12.8" y2="370.4" stroke="#2a2a2a" stroke-width="0.55"/>
<text x="-0.06" y="375.6" font-family='"Liberation Serif", serif' font-size="8.6" fill="#2a2a2a">10</text>
<text x="13.04" y="335.35" font-family='"Liberation Serif", serif' font-size="6.2" fill="#2a2a2a">2</text>
<line x1="8.7" y1="333.15" x2="12.8" y2="333.15" stroke="#2a2a2a" stroke-width="0.55"/>
<text x="-0.06" y="338.35" font-family='"Liberation Serif", serif' font-size="8.6" fill="#2a2a2a">10</text>
<text x="13.04" y="298.1" font-family='"Liberation Serif", serif' font-size="6.2" fill="#2a2a2a">1</text>
<line x1="8.7" y1="295.9" x2="12.8" y2="295.9" stroke="#2a2a2a" stroke-width="0.55"/>
<text x="-0.06" y="301.1" font-family='"Liberation Serif", serif' font-size="8.6" fill="#2a2a2a">10</text>
<text x="14.05" y="260.85" font-family='"Liberation Serif", serif' font-size="6.2" fill="#2a2a2a">0</text>
<text x="4.84" y="263.85" font-family='"Liberation Serif", serif' font-size="8.6" fill="#2a2a2a">10</text>
<text x="14.05" y="223.6" font-family='"Liberation Serif", serif' font-size="6.2" fill="#2a2a2a">1</text>
<text x="4.84" y="226.6" font-family='"Liberation Serif", serif' font-size="8.6" fill="#2a2a2a">10</text>
<text class="t" x="31.25" y="220.2" font-family='"Liberation Sans", sans-serif' font-size="9.8" fill="#000000" textLength="46.74" lengthAdjust="spacingAndGlyphs">refl. coeff.</text>
<text x="83.5" y="220.2" font-family='"Liberation Serif", serif' font-size="11.0" fill="#000000" font-style="italic" textLength="24.13" lengthAdjust="spacing">R<tspan font-style="normal">(</tspan>E<tspan font-style="normal">)</tspan></text>
<text class="t" x="110.9" y="220.2" font-family='"Liberation Sans", sans-serif' font-size="9.8" fill="#000000" textLength="26.24" lengthAdjust="spacingAndGlyphs">on Be</text>
<text class="u" x="44.22" y="392.9" font-family='"Liberation Sans", sans-serif' font-size="8.6" fill="#000000" textLength="51.99" lengthAdjust="spacingAndGlyphs">impact energy</text>
<text x="100.01" y="392.5" font-family='"Liberation Serif", serif' font-size="9.3" fill="#000000" font-style="italic" textLength="6.72" lengthAdjust="spacingAndGlyphs">E</text>
<text x="109.62" y="392.5" font-family='"Liberation Sans", sans-serif' font-size="9.2" fill="#000000" textLength="14.75" lengthAdjust="spacingAndGlyphs">[eV]</text>
<text x="66.1" y="415.6" font-family='"Liberation Serif", serif' font-size="14.9" fill="#000" font-weight="bold" textLength="5" lengthAdjust="spacingAndGlyphs">(</text>
<text x="71.38" y="414.6" font-family='"Liberation Serif", serif' font-size="11.9" fill="#000" font-weight="bold" textLength="7.63" lengthAdjust="spacingAndGlyphs">e</text>
<text x="79.45" y="415.6" font-family='"Liberation Serif", serif' font-size="14.9" fill="#000" font-weight="bold" textLength="5" lengthAdjust="spacingAndGlyphs">)</text>
<line x1="189.44" y1="223.5" x2="189.44" y2="372.5" stroke="#dedede" stroke-width="0.8"/>
<line x1="232.44" y1="223.5" x2="232.44" y2="372.5" stroke="#dedede" stroke-width="0.8"/>
<line x1="275.44" y1="223.5" x2="275.44" y2="372.5" stroke="#dedede" stroke-width="0.8"/>
<line x1="176.5" y1="372.5" x2="305.5" y2="372.5" stroke="#dedede" stroke-width="0.8"/>
<line x1="176.5" y1="335.25" x2="305.5" y2="335.25" stroke="#dedede" stroke-width="0.8"/>
<line x1="176.5" y1="298" x2="305.5" y2="298" stroke="#dedede" stroke-width="0.8"/>
<line x1="176.5" y1="260.75" x2="305.5" y2="260.75" stroke="#dedede" stroke-width="0.8"/>
<line x1="176.5" y1="223.5" x2="305.5" y2="223.5" stroke="#dedede" stroke-width="0.8"/>
<path d="M176.2,262 L232.9,266.2 L275,269.4 L305.5,274.3" fill="none" stroke="#ff0000" stroke-width="1.5" stroke-linejoin="round"/>
<path d="M176.2,262 L232.9,266.2 L275,269.4 L305.5,272.6" fill="none" stroke="#0000ff" stroke-width="1.5" stroke-linejoin="round"/>
<path d="M176.2,263.1 L232.9,266.2 L275,269.4 L305.5,272.6" fill="none" stroke="#ff00ff" stroke-width="1.5" stroke-linejoin="round"/>
<path d="M176.2,262 L232.9,266.2 L275,269.4 L305.5,272.6" fill="none" stroke="#00c8d2" stroke-width="1.5" stroke-linejoin="round"/>
<path d="M176.2,279.9 L189.7,268.8 L203.4,265.8 L232.9,266.7 L275,269.4 L305.5,272.3" fill="none" stroke="#00b400" stroke-width="1.5" stroke-linejoin="round"/>
<path d="M214.4,372.5 C215.57,366.6 216.74,360.64 217.9,354.8 C219.04,349.08 219.97,343.44 221.3,337.8 C222.64,332.11 223.94,326.18 225.9,320.8 C227.78,315.64 230.13,310.12 232.7,306.1 C234.77,302.86 237.09,300.32 239.5,298.1 C241.65,296.11 243.74,294.39 246.3,293.2 C249.01,291.94 252.57,291.25 255.4,290.9 C257.81,290.6 259.55,290.74 262.2,290.9 C265.96,291.12 271.27,291.97 275.8,292.5 C280.33,293.03 284.69,293.4 289.4,294.1 C294.55,294.87 300.13,296.03 305.5,297" fill="none" stroke="#ff7f0e" stroke-width="1.5" stroke-linejoin="round"/>
<rect x="176.5" y="223.5" width="129" height="149" fill="none" stroke="#b4b4b4" stroke-width="1"/>
<line x1="189.44" y1="371.9" x2="189.44" y2="374.2" stroke="#484848" stroke-width="0.9"/>
<line x1="232.44" y1="371.9" x2="232.44" y2="374.2" stroke="#484848" stroke-width="0.9"/>
<line x1="275.44" y1="371.9" x2="275.44" y2="374.2" stroke="#484848" stroke-width="0.9"/>
<line x1="177.1" y1="372.5" x2="174.8" y2="372.5" stroke="#484848" stroke-width="0.9"/>
<line x1="177.1" y1="335.25" x2="174.8" y2="335.25" stroke="#484848" stroke-width="0.9"/>
<line x1="177.1" y1="298" x2="174.8" y2="298" stroke="#484848" stroke-width="0.9"/>
<line x1="177.1" y1="260.75" x2="174.8" y2="260.75" stroke="#484848" stroke-width="0.9"/>
<line x1="177.1" y1="223.5" x2="174.8" y2="223.5" stroke="#484848" stroke-width="0.9"/>
<line x1="176.5" y1="372" x2="176.5" y2="373.3" stroke="#484848" stroke-width="0.8"/>
<line x1="179.9" y1="372" x2="179.9" y2="373.3" stroke="#484848" stroke-width="0.8"/>
<line x1="182.78" y1="372" x2="182.78" y2="373.3" stroke="#484848" stroke-width="0.8"/>
<line x1="185.28" y1="372" x2="185.28" y2="373.3" stroke="#484848" stroke-width="0.8"/>
<line x1="187.48" y1="372" x2="187.48" y2="373.3" stroke="#484848" stroke-width="0.8"/>
<line x1="202.39" y1="372" x2="202.39" y2="373.3" stroke="#484848" stroke-width="0.8"/>
<line x1="209.96" y1="372" x2="209.96" y2="373.3" stroke="#484848" stroke-width="0.8"/>
<line x1="215.33" y1="372" x2="215.33" y2="373.3" stroke="#484848" stroke-width="0.8"/>
<line x1="219.5" y1="372" x2="219.5" y2="373.3" stroke="#484848" stroke-width="0.8"/>
<line x1="222.9" y1="372" x2="222.9" y2="373.3" stroke="#484848" stroke-width="0.8"/>
<line x1="225.78" y1="372" x2="225.78" y2="373.3" stroke="#484848" stroke-width="0.8"/>
<line x1="228.28" y1="372" x2="228.28" y2="373.3" stroke="#484848" stroke-width="0.8"/>
<line x1="230.48" y1="372" x2="230.48" y2="373.3" stroke="#484848" stroke-width="0.8"/>
<line x1="245.39" y1="372" x2="245.39" y2="373.3" stroke="#484848" stroke-width="0.8"/>
<line x1="252.96" y1="372" x2="252.96" y2="373.3" stroke="#484848" stroke-width="0.8"/>
<line x1="258.33" y1="372" x2="258.33" y2="373.3" stroke="#484848" stroke-width="0.8"/>
<line x1="262.5" y1="372" x2="262.5" y2="373.3" stroke="#484848" stroke-width="0.8"/>
<line x1="265.9" y1="372" x2="265.9" y2="373.3" stroke="#484848" stroke-width="0.8"/>
<line x1="268.78" y1="372" x2="268.78" y2="373.3" stroke="#484848" stroke-width="0.8"/>
<line x1="271.28" y1="372" x2="271.28" y2="373.3" stroke="#484848" stroke-width="0.8"/>
<line x1="273.48" y1="372" x2="273.48" y2="373.3" stroke="#484848" stroke-width="0.8"/>
<line x1="288.39" y1="372" x2="288.39" y2="373.3" stroke="#484848" stroke-width="0.8"/>
<line x1="295.96" y1="372" x2="295.96" y2="373.3" stroke="#484848" stroke-width="0.8"/>
<line x1="301.33" y1="372" x2="301.33" y2="373.3" stroke="#484848" stroke-width="0.8"/>
<line x1="305.5" y1="372" x2="305.5" y2="373.3" stroke="#484848" stroke-width="0.8"/>
<line x1="177" y1="361.29" x2="175.7" y2="361.29" stroke="#484848" stroke-width="0.8"/>
<line x1="177" y1="354.73" x2="175.7" y2="354.73" stroke="#484848" stroke-width="0.8"/>
<line x1="177" y1="350.07" x2="175.7" y2="350.07" stroke="#484848" stroke-width="0.8"/>
<line x1="177" y1="346.46" x2="175.7" y2="346.46" stroke="#484848" stroke-width="0.8"/>
<line x1="177" y1="343.51" x2="175.7" y2="343.51" stroke="#484848" stroke-width="0.8"/>
<line x1="177" y1="341.02" x2="175.7" y2="341.02" stroke="#484848" stroke-width="0.8"/>
<line x1="177" y1="338.86" x2="175.7" y2="338.86" stroke="#484848" stroke-width="0.8"/>
<line x1="177" y1="336.95" x2="175.7" y2="336.95" stroke="#484848" stroke-width="0.8"/>
<line x1="177" y1="324.04" x2="175.7" y2="324.04" stroke="#484848" stroke-width="0.8"/>
<line x1="177" y1="317.48" x2="175.7" y2="317.48" stroke="#484848" stroke-width="0.8"/>
<line x1="177" y1="312.82" x2="175.7" y2="312.82" stroke="#484848" stroke-width="0.8"/>
<line x1="177" y1="309.21" x2="175.7" y2="309.21" stroke="#484848" stroke-width="0.8"/>
<line x1="177" y1="306.26" x2="175.7" y2="306.26" stroke="#484848" stroke-width="0.8"/>
<line x1="177" y1="303.77" x2="175.7" y2="303.77" stroke="#484848" stroke-width="0.8"/>
<line x1="177" y1="301.61" x2="175.7" y2="301.61" stroke="#484848" stroke-width="0.8"/>
<line x1="177" y1="299.7" x2="175.7" y2="299.7" stroke="#484848" stroke-width="0.8"/>
<line x1="177" y1="286.79" x2="175.7" y2="286.79" stroke="#484848" stroke-width="0.8"/>
<line x1="177" y1="280.23" x2="175.7" y2="280.23" stroke="#484848" stroke-width="0.8"/>
<line x1="177" y1="275.57" x2="175.7" y2="275.57" stroke="#484848" stroke-width="0.8"/>
<line x1="177" y1="271.96" x2="175.7" y2="271.96" stroke="#484848" stroke-width="0.8"/>
<line x1="177" y1="269.01" x2="175.7" y2="269.01" stroke="#484848" stroke-width="0.8"/>
<line x1="177" y1="266.52" x2="175.7" y2="266.52" stroke="#484848" stroke-width="0.8"/>
<line x1="177" y1="264.36" x2="175.7" y2="264.36" stroke="#484848" stroke-width="0.8"/>
<line x1="177" y1="262.45" x2="175.7" y2="262.45" stroke="#484848" stroke-width="0.8"/>
<line x1="177" y1="249.54" x2="175.7" y2="249.54" stroke="#484848" stroke-width="0.8"/>
<line x1="177" y1="242.98" x2="175.7" y2="242.98" stroke="#484848" stroke-width="0.8"/>
<line x1="177" y1="238.32" x2="175.7" y2="238.32" stroke="#484848" stroke-width="0.8"/>
<line x1="177" y1="234.71" x2="175.7" y2="234.71" stroke="#484848" stroke-width="0.8"/>
<line x1="177" y1="231.76" x2="175.7" y2="231.76" stroke="#484848" stroke-width="0.8"/>
<line x1="177" y1="229.27" x2="175.7" y2="229.27" stroke="#484848" stroke-width="0.8"/>
<line x1="177" y1="227.11" x2="175.7" y2="227.11" stroke="#484848" stroke-width="0.8"/>
<line x1="177" y1="225.2" x2="175.7" y2="225.2" stroke="#484848" stroke-width="0.8"/>
<rect x="235.6" y="328.7" width="64.7" height="39" rx="2" ry="2" fill="#ffffff" fill-opacity="0.9" stroke="#dcdcdc" stroke-width="0.8"/>
<line x1="238.1" y1="335.7" x2="249.1" y2="335.7" stroke="#ff0000" stroke-width="1.5"/>
<text class="u" x="255" y="338.6" font-family='"Liberation Sans", sans-serif' font-size="8.35" fill="#1a1a1a">H</text>
<line x1="238.1" y1="347.1" x2="249.1" y2="347.1" stroke="#0000ff" stroke-width="1.5"/>
<text class="u" x="255" y="350" font-family='"Liberation Sans", sans-serif' font-size="8.35" fill="#1a1a1a">D</text>
<line x1="238.1" y1="358.9" x2="249.1" y2="358.9" stroke="#ff00ff" stroke-width="1.5"/>
<text class="u" x="255" y="361.8" font-family='"Liberation Sans", sans-serif' font-size="8.35" fill="#1a1a1a">T</text>
<line x1="269.1" y1="335.7" x2="280.1" y2="335.7" stroke="#00c8d2" stroke-width="1.5"/>
<text class="u" x="286" y="338.6" font-family='"Liberation Sans", sans-serif' font-size="8.35" fill="#1a1a1a">He</text>
<line x1="269.1" y1="347.1" x2="280.1" y2="347.1" stroke="#00b400" stroke-width="1.5"/>
<text class="u" x="286" y="350" font-family='"Liberation Sans", sans-serif' font-size="8.35" fill="#1a1a1a">Be</text>
<line x1="269.1" y1="358.9" x2="280.1" y2="358.9" stroke="#ff7f0e" stroke-width="1.5"/>
<text class="u" x="286" y="361.8" font-family='"Liberation Sans", sans-serif' font-size="8.35" fill="#1a1a1a">W</text>
<text x="182.72" y="381.8" font-family='"Liberation Serif", serif' font-size="8.6" fill="#2a2a2a">10</text>
<text x="191.74" y="378.6" font-family='"Liberation Serif", serif' font-size="6.2" fill="#2a2a2a">1</text>
<text x="225.72" y="381.8" font-family='"Liberation Serif", serif' font-size="8.6" fill="#2a2a2a">10</text>
<text x="234.74" y="378.6" font-family='"Liberation Serif", serif' font-size="6.2" fill="#2a2a2a">2</text>
<text x="268.72" y="381.8" font-family='"Liberation Serif", serif' font-size="8.6" fill="#2a2a2a">10</text>
<text x="277.74" y="378.6" font-family='"Liberation Serif", serif' font-size="6.2" fill="#2a2a2a">3</text>
<text x="169.04" y="372.6" font-family='"Liberation Serif", serif' font-size="6.2" fill="#2a2a2a">3</text>
<line x1="164.7" y1="370.4" x2="168.8" y2="370.4" stroke="#2a2a2a" stroke-width="0.55"/>
<text x="155.94" y="375.6" font-family='"Liberation Serif", serif' font-size="8.6" fill="#2a2a2a">10</text>
<text x="169.04" y="335.35" font-family='"Liberation Serif", serif' font-size="6.2" fill="#2a2a2a">2</text>
<line x1="164.7" y1="333.15" x2="168.8" y2="333.15" stroke="#2a2a2a" stroke-width="0.55"/>
<text x="155.94" y="338.35" font-family='"Liberation Serif", serif' font-size="8.6" fill="#2a2a2a">10</text>
<text x="169.04" y="298.1" font-family='"Liberation Serif", serif' font-size="6.2" fill="#2a2a2a">1</text>
<line x1="164.7" y1="295.9" x2="168.8" y2="295.9" stroke="#2a2a2a" stroke-width="0.55"/>
<text x="155.94" y="301.1" font-family='"Liberation Serif", serif' font-size="8.6" fill="#2a2a2a">10</text>
<text x="170.05" y="260.85" font-family='"Liberation Serif", serif' font-size="6.2" fill="#2a2a2a">0</text>
<text x="160.84" y="263.85" font-family='"Liberation Serif", serif' font-size="8.6" fill="#2a2a2a">10</text>
<text x="170.05" y="223.6" font-family='"Liberation Serif", serif' font-size="6.2" fill="#2a2a2a">1</text>
<text x="160.84" y="226.6" font-family='"Liberation Serif", serif' font-size="8.6" fill="#2a2a2a">10</text>
<text class="t" x="187.66" y="220.2" font-family='"Liberation Sans", sans-serif' font-size="9.8" fill="#000000" textLength="46.12" lengthAdjust="spacingAndGlyphs">refl. coeff.</text>
<text x="239.5" y="220.2" font-family='"Liberation Serif", serif' font-size="11.0" fill="#000000" font-style="italic" textLength="24.13" lengthAdjust="spacing">R<tspan font-style="normal">(</tspan>E<tspan font-style="normal">)</tspan></text>
<text class="t" x="266.88" y="220.2" font-family='"Liberation Sans", sans-serif' font-size="9.8" fill="#000000" textLength="24.77" lengthAdjust="spacingAndGlyphs">on W</text>
<text class="u" x="200.22" y="392.9" font-family='"Liberation Sans", sans-serif' font-size="8.6" fill="#000000" textLength="51.99" lengthAdjust="spacingAndGlyphs">impact energy</text>
<text x="256.01" y="392.5" font-family='"Liberation Serif", serif' font-size="9.3" fill="#000000" font-style="italic" textLength="6.72" lengthAdjust="spacingAndGlyphs">E</text>
<text x="265.62" y="392.5" font-family='"Liberation Sans", sans-serif' font-size="9.2" fill="#000000" textLength="14.75" lengthAdjust="spacingAndGlyphs">[eV]</text>
<text x="222" y="415.6" font-family='"Liberation Serif", serif' font-size="14.9" fill="#000" font-weight="bold" textLength="5" lengthAdjust="spacingAndGlyphs">(</text>
<text x="227.62" y="414.6" font-family='"Liberation Serif", serif' font-size="11.9" fill="#000" font-weight="bold" textLength="5.85" lengthAdjust="spacingAndGlyphs">f</text>
<text x="234.45" y="415.6" font-family='"Liberation Serif", serif' font-size="14.9" fill="#000" font-weight="bold" textLength="5" lengthAdjust="spacingAndGlyphs">)</text>
<line x1="326" y1="222.9" x2="326" y2="372.5" stroke="#dedede" stroke-width="0.8"/>
<line x1="369.83" y1="222.9" x2="369.83" y2="372.5" stroke="#dedede" stroke-width="0.8"/>
<line x1="413.67" y1="222.9" x2="413.67" y2="372.5" stroke="#dedede" stroke-width="0.8"/>
<line x1="457.5" y1="222.9" x2="457.5" y2="372.5" stroke="#dedede" stroke-width="0.8"/>
<line x1="326" y1="372.5" x2="457.5" y2="372.5" stroke="#dedede" stroke-width="0.8"/>
<line x1="326" y1="343.94" x2="457.5" y2="343.94" stroke="#dedede" stroke-width="0.8"/>
<line x1="326" y1="315.37" x2="457.5" y2="315.37" stroke="#dedede" stroke-width="0.8"/>
<line x1="326" y1="286.81" x2="457.5" y2="286.81" stroke="#dedede" stroke-width="0.8"/>
<line x1="326" y1="258.25" x2="457.5" y2="258.25" stroke="#dedede" stroke-width="0.8"/>
<line x1="326" y1="229.68" x2="457.5" y2="229.68" stroke="#dedede" stroke-width="0.8"/>
<path d="M326,352.2 C331.93,351.43 337.33,350.98 343.8,349.9 C351.65,348.59 362.57,346.76 369.7,344.6 C374.95,343.01 378.55,341.34 383,339.2 C387.75,336.92 392.54,334.47 397.3,331.2 C402.68,327.5 409.15,321.91 413.4,317.8 C416.54,314.77 418.59,312.44 421,309.3 C423.64,305.87 426.24,301.75 428.5,297.9 C430.69,294.18 432.46,291.33 434.4,286.6 C437.36,279.4 440.75,266.5 443.1,258.3 C444.89,252.05 446.14,246.55 447.5,241.7 C448.57,237.88 449,233.29 450.5,231.5 C451.34,230.49 452.4,230.32 453.5,230 C454.71,229.65 456.17,229.73 457.5,229.6" fill="none" stroke="#ff0000" stroke-width="1.5" stroke-linejoin="round"/>
<path d="M326,358.8 C331.93,358.1 337.33,357.7 343.8,356.7 C351.65,355.48 362.54,353.57 369.7,351.7 C374.92,350.34 378.58,349.26 383,347.3 C387.78,345.18 392.57,342.57 397.3,339.2 C402.71,335.35 408.6,330.13 413.4,325 C418.07,320.01 422.62,313.89 425.8,308.9 C428.28,305 429.84,301.64 431.5,297.9 C433.14,294.21 434.16,291.25 435.7,286.6 C438.1,279.33 441.82,266.51 443.9,258.3 C445.48,252.06 446.15,246.53 447.5,241.7 C448.57,237.85 449.43,233.29 451,231.5 C451.87,230.5 452.93,230.32 454,230 C455.09,229.67 456.33,229.73 457.5,229.6" fill="none" stroke="#0000ff" stroke-width="1.5" stroke-linejoin="round"/>
<path d="M326,362.8 C331.93,362.27 337.32,361.97 343.8,361.2 C351.64,360.27 362.54,358.97 369.7,357.4 C374.91,356.26 378.59,355.35 383,353.5 C387.79,351.49 392.63,349.03 397.3,345.5 C402.8,341.34 408.31,335.26 413.4,329.4 C418.74,323.24 425.17,315.26 428.5,309.3 C430.83,305.14 431.61,301.71 433,297.9 C434.37,294.14 435.37,291.24 436.8,286.6 C439.04,279.32 442.67,266.51 444.7,258.3 C446.25,252.06 446.95,246.53 448.3,241.7 C449.37,237.85 450.3,233.29 451.8,231.5 C452.6,230.54 453.54,230.32 454.5,230 C455.45,229.69 456.5,229.73 457.5,229.6" fill="none" stroke="#ff00ff" stroke-width="1.5" stroke-linejoin="round"/>
<path d="M326,364.6 C331.93,364.07 337.33,363.81 343.8,363 C351.64,362.01 362.55,360.53 369.7,358.8 C374.92,357.54 378.58,356.44 383,354.5 C387.79,352.4 392.63,349.95 397.3,346.4 C402.8,342.22 408.54,336.31 413.4,330.3 C418.49,324 424.01,315.4 427,309.3 C429.08,305.06 429.86,301.72 431,297.9 C432.12,294.15 432.72,291.23 433.8,286.6 C435.5,279.3 437.94,266.69 440,258.3 C441.67,251.51 443.33,244.99 445,240 C446.2,236.43 446.99,232.54 448.6,231 C449.58,230.06 450.71,230.05 452,229.8 C453.59,229.5 455.67,229.67 457.5,229.6" fill="none" stroke="#00c8d2" stroke-width="1.5" stroke-linejoin="round"/>
<path d="M326,371.3 C331.93,371.13 337.32,371.15 343.8,370.8 C351.63,370.37 362.54,369.95 369.7,368.7 C374.91,367.79 378.6,366.9 383,365.1 C387.8,363.14 392.63,360.63 397.3,357.1 C402.8,352.94 409.06,346.46 413.4,341 C417.13,336.3 420.08,331.88 422.3,326.7 C424.59,321.35 425.32,314.47 426.8,309.3 C428.01,305.08 429.31,301.71 430.4,297.9 C431.48,294.14 432.16,291.22 433.3,286.6 C435.1,279.3 437.86,266.69 440,258.3 C441.73,251.52 443.33,244.99 445,240 C446.2,236.43 446.99,232.54 448.6,231 C449.58,230.06 450.71,230.05 452,229.8 C453.59,229.5 455.67,229.67 457.5,229.6" fill="none" stroke="#00b400" stroke-width="1.5" stroke-linejoin="round"/>
<path d="M326,372.3 C344,372.3 362.35,372.32 380,372.3 C396.99,372.28 422.25,372.79 430,372.2 C432.36,372.02 433.28,371.97 434.6,371.5 C435.72,371.1 436.64,370.57 437.5,369.8 C438.46,368.95 439.18,368.05 440,366.5 C441.5,363.69 442.99,357.24 444.4,353.6 C445.46,350.86 446.4,348.22 447.5,346.5 C448.24,345.35 448.96,344.42 449.8,343.9 C450.48,343.48 451.24,343.3 452,343.3 C452.81,343.3 453.63,343.73 454.5,344 C455.46,344.29 456.5,344.67 457.5,345" fill="none" stroke="#ff7f0e" stroke-width="1.5" stroke-linejoin="round"/>
<rect x="326" y="222.9" width="131.5" height="149.6" fill="none" stroke="#b4b4b4" stroke-width="1"/>
<line x1="326" y1="371.9" x2="326" y2="374.2" stroke="#484848" stroke-width="0.9"/>
<line x1="369.83" y1="371.9" x2="369.83" y2="374.2" stroke="#484848" stroke-width="0.9"/>
<line x1="413.67" y1="371.9" x2="413.67" y2="374.2" stroke="#484848" stroke-width="0.9"/>
<line x1="457.5" y1="371.9" x2="457.5" y2="374.2" stroke="#484848" stroke-width="0.9"/>
<line x1="326.6" y1="372.5" x2="324.3" y2="372.5" stroke="#484848" stroke-width="0.9"/>
<line x1="326.6" y1="343.94" x2="324.3" y2="343.94" stroke="#484848" stroke-width="0.9"/>
<line x1="326.6" y1="315.37" x2="324.3" y2="315.37" stroke="#484848" stroke-width="0.9"/>
<line x1="326.6" y1="286.81" x2="324.3" y2="286.81" stroke="#484848" stroke-width="0.9"/>
<line x1="326.6" y1="258.25" x2="324.3" y2="258.25" stroke="#484848" stroke-width="0.9"/>
<line x1="326.6" y1="229.68" x2="324.3" y2="229.68" stroke="#484848" stroke-width="0.9"/>
<rect x="330.8" y="227.4" width="64.7" height="38" rx="2" ry="2" fill="#ffffff" fill-opacity="0.9" stroke="#dcdcdc" stroke-width="0.8"/>
<line x1="333.3" y1="234.4" x2="344.3" y2="234.4" stroke="#ff0000" stroke-width="1.5"/>
<text class="u" x="350.2" y="237.3" font-family='"Liberation Sans", sans-serif' font-size="8.35" fill="#1a1a1a">H</text>
<line x1="333.3" y1="245.8" x2="344.3" y2="245.8" stroke="#0000ff" stroke-width="1.5"/>
<text class="u" x="350.2" y="248.7" font-family='"Liberation Sans", sans-serif' font-size="8.35" fill="#1a1a1a">D</text>
<line x1="333.3" y1="257.6" x2="344.3" y2="257.6" stroke="#ff00ff" stroke-width="1.5"/>
<text class="u" x="350.2" y="260.5" font-family='"Liberation Sans", sans-serif' font-size="8.35" fill="#1a1a1a">T</text>
<line x1="364.3" y1="234.4" x2="375.3" y2="234.4" stroke="#00c8d2" stroke-width="1.5"/>
<text class="u" x="381.2" y="237.3" font-family='"Liberation Sans", sans-serif' font-size="8.35" fill="#1a1a1a">He</text>
<line x1="364.3" y1="245.8" x2="375.3" y2="245.8" stroke="#00b400" stroke-width="1.5"/>
<text class="u" x="381.2" y="248.7" font-family='"Liberation Sans", sans-serif' font-size="8.35" fill="#1a1a1a">Be</text>
<line x1="364.3" y1="257.6" x2="375.3" y2="257.6" stroke="#ff7f0e" stroke-width="1.5"/>
<text class="u" x="381.2" y="260.5" font-family='"Liberation Sans", sans-serif' font-size="8.35" fill="#1a1a1a">W</text>
<text x="326" y="381.9" font-family='"Liberation Serif", serif' font-size="8.6" fill="#2a2a2a" text-anchor="middle">0</text>
<text x="369.83" y="381.9" font-family='"Liberation Serif", serif' font-size="8.6" fill="#2a2a2a" text-anchor="middle">30</text>
<text x="413.67" y="381.9" font-family='"Liberation Serif", serif' font-size="8.6" fill="#2a2a2a" text-anchor="middle">60</text>
<text x="457.5" y="381.9" font-family='"Liberation Serif", serif' font-size="8.6" fill="#2a2a2a" text-anchor="middle">90</text>
<text x="322.4" y="375.6" font-family='"Liberation Serif", serif' font-size="8.6" fill="#2a2a2a" text-anchor="end">0.0</text>
<text x="322.4" y="347.04" font-family='"Liberation Serif", serif' font-size="8.6" fill="#2a2a2a" text-anchor="end">0.2</text>
<text x="322.4" y="318.47" font-family='"Liberation Serif", serif' font-size="8.6" fill="#2a2a2a" text-anchor="end">0.4</text>
<text x="322.4" y="289.91" font-family='"Liberation Serif", serif' font-size="8.6" fill="#2a2a2a" text-anchor="end">0.6</text>
<text x="322.4" y="261.35" font-family='"Liberation Serif", serif' font-size="8.6" fill="#2a2a2a" text-anchor="end">0.8</text>
<text x="322.4" y="232.78" font-family='"Liberation Serif", serif' font-size="8.6" fill="#2a2a2a" text-anchor="end">1.0</text>
<text class="t" x="339.16" y="220.2" font-family='"Liberation Sans", sans-serif' font-size="9.8" fill="#000000" textLength="46.32" lengthAdjust="spacingAndGlyphs">refl. coeff.</text>
<text x="391" y="220.2" font-family='"Liberation Serif", serif' font-size="11.0" fill="#000000" font-style="italic" textLength="20.63" lengthAdjust="spacing">R<tspan font-style="normal">(</tspan>θ<tspan font-style="normal">)</tspan></text>
<text class="t" x="415.39" y="220.2" font-family='"Liberation Sans", sans-serif' font-size="9.8" fill="#000000" textLength="26.75" lengthAdjust="spacingAndGlyphs">on Be</text>
<text class="u" x="357.41" y="392.9" font-family='"Liberation Sans", sans-serif' font-size="8.6" fill="#000000" textLength="47.98" lengthAdjust="spacingAndGlyphs">impact angle</text>
<text x="407.64" y="392.5" font-family='"Liberation Serif", serif' font-size="9.3" fill="#000000" font-style="italic" textLength="5.03" lengthAdjust="spacingAndGlyphs">θ</text>
<text x="415.74" y="392.5" font-family='"Liberation Sans", sans-serif' font-size="9.2" fill="#000000" textLength="8.38" lengthAdjust="spacingAndGlyphs">[°]</text>
<text x="376.7" y="415.6" font-family='"Liberation Serif", serif' font-size="14.9" fill="#000" font-weight="bold" textLength="5" lengthAdjust="spacingAndGlyphs">(</text>
<text x="382.04" y="414.6" font-family='"Liberation Serif", serif' font-size="11.9" fill="#000" font-weight="bold" textLength="7.72" lengthAdjust="spacingAndGlyphs">g</text>
<text x="390.45" y="415.6" font-family='"Liberation Serif", serif' font-size="14.9" fill="#000" font-weight="bold" textLength="5" lengthAdjust="spacingAndGlyphs">)</text>
<line x1="481" y1="222.9" x2="481" y2="372.5" stroke="#dedede" stroke-width="0.8"/>
<line x1="524.83" y1="222.9" x2="524.83" y2="372.5" stroke="#dedede" stroke-width="0.8"/>
<line x1="568.67" y1="222.9" x2="568.67" y2="372.5" stroke="#dedede" stroke-width="0.8"/>
<line x1="612.5" y1="222.9" x2="612.5" y2="372.5" stroke="#dedede" stroke-width="0.8"/>
<line x1="481" y1="372.5" x2="612.5" y2="372.5" stroke="#dedede" stroke-width="0.8"/>
<line x1="481" y1="343.94" x2="612.5" y2="343.94" stroke="#dedede" stroke-width="0.8"/>
<line x1="481" y1="315.37" x2="612.5" y2="315.37" stroke="#dedede" stroke-width="0.8"/>
<line x1="481" y1="286.81" x2="612.5" y2="286.81" stroke="#dedede" stroke-width="0.8"/>
<line x1="481" y1="258.25" x2="612.5" y2="258.25" stroke="#dedede" stroke-width="0.8"/>
<line x1="481" y1="229.68" x2="612.5" y2="229.68" stroke="#dedede" stroke-width="0.8"/>
<path d="M481,289.2 C487.13,288.63 492.76,288.42 499.4,287.5 C507.34,286.4 517.41,284.57 525.4,282.7 C532.38,281.07 538.77,279.18 544.8,277.2 C550.21,275.42 555.8,273.69 560,271.5 C563.31,269.78 565.39,267.81 568.3,265.8 C571.55,263.56 575.38,261.15 578.6,258.7 C581.65,256.38 584.39,254.07 587.2,251.5 C590.13,248.82 593.12,245.83 595.8,242.9 C598.37,240.09 600.38,236.38 603,234.3 C605.21,232.54 608.32,231.24 610.1,230.7 C611.08,230.4 611.7,230.5 612.5,230.4" fill="none" stroke="#ff0000" stroke-width="1.5" stroke-linejoin="round"/>
<path d="M481,287 C487.13,286.43 492.76,286.22 499.4,285.3 C507.34,284.2 517.4,282.33 525.4,280.5 C532.38,278.91 538.76,277.09 544.8,275.2 C550.21,273.5 555.76,271.73 560,269.8 C563.26,268.31 565.45,266.99 568.3,265.1 C571.62,262.9 575.38,259.91 578.6,257.2 C581.66,254.63 584.36,252.01 587.2,249.3 C590.09,246.54 593.1,243.62 595.8,240.8 C598.34,238.15 600.78,234.69 603,232.9 C604.52,231.68 605.74,230.89 607.3,230.4 C608.9,229.9 610.77,230.13 612.5,230" fill="none" stroke="#0000ff" stroke-width="1.5" stroke-linejoin="round"/>
<path d="M481,287.3 C487.13,286.73 492.76,286.52 499.4,285.6 C507.34,284.5 517.4,282.65 525.4,280.8 C532.38,279.19 538.76,277.31 544.8,275.4 C550.21,273.69 555.76,271.93 560,270 C563.26,268.51 565.44,267.14 568.3,265.3 C571.61,263.17 575.37,260.37 578.6,257.8 C581.65,255.37 584.37,252.9 587.2,250.3 C590.1,247.64 593.28,244.65 595.8,242 C597.95,239.75 599.48,237.32 601.5,235.5 C603.33,233.85 605.33,232.28 607.3,231.4 C609.01,230.64 610.77,230.6 612.5,230.2" fill="none" stroke="#ff00ff" stroke-width="1.5" stroke-linejoin="round"/>
<path d="M481,287.9 C487.13,287.27 492.76,286.93 499.4,286 C507.34,284.89 517.42,283.29 525.4,281.4 C532.39,279.74 538.92,277.64 544.8,275.6 C549.83,273.85 554.47,272.12 558.6,270.1 C562.19,268.34 565.11,266.65 568.3,264.4 C571.78,261.95 575.35,258.64 578.6,255.8 C581.63,253.15 584.48,250.49 587.2,247.9 C589.73,245.49 592.07,243.34 594.4,240.8 C596.85,238.13 599.56,234.06 601.5,232.2 C602.61,231.14 603.1,230.47 604.4,230 C606.35,229.29 609.8,229.73 612.5,229.6" fill="none" stroke="#00c8d2" stroke-width="1.5" stroke-linejoin="round"/>
<path d="M481,297.6 C487.13,297.17 492.77,297.19 499.4,296.3 C507.35,295.23 517.47,293.47 525.4,291.1 C532.44,289 539.01,286.3 544.8,283.3 C549.93,280.64 554.48,277.39 558.6,274.4 C562.2,271.79 565.03,269.2 568.3,266.5 C571.69,263.7 575.38,260.84 578.6,257.9 C581.66,255.1 584.36,252.25 587.2,249.3 C590.1,246.29 592.99,242.75 595.8,240 C598.25,237.6 600.44,235.04 603,233.6 C605.25,232.33 608.35,231.82 610.1,231.4 C611.1,231.16 611.7,231.13 612.5,231" fill="none" stroke="#00b400" stroke-width="1.5" stroke-linejoin="round"/>
<path d="M481,371 C485.73,370.8 490.4,370.91 495.2,370.4 C500.2,369.87 505.39,369.12 510.4,367.8 C515.53,366.45 520.78,364.78 525.6,362.3 C530.56,359.75 535.2,356.49 539.7,352.6 C544.65,348.32 549.41,343.39 553.8,337.4 C558.97,330.35 563.81,320.26 568,312.4 C571.64,305.57 574.62,299.85 577.7,293 C581.04,285.58 584.42,276.28 587.2,269.4 C589.37,264.04 590.99,259.57 593,255.1 C594.83,251.02 596.52,246.63 598.7,243.6 C600.43,241.2 602.36,239.31 604.4,237.9 C606.19,236.65 608.58,235.73 610.1,235.3 C611.05,235.03 611.7,235.1 612.5,235" fill="none" stroke="#ff7f0e" stroke-width="1.5" stroke-linejoin="round"/>
<rect x="481" y="222.9" width="131.5" height="149.6" fill="none" stroke="#b4b4b4" stroke-width="1"/>
<line x1="481" y1="371.9" x2="481" y2="374.2" stroke="#484848" stroke-width="0.9"/>
<line x1="524.83" y1="371.9" x2="524.83" y2="374.2" stroke="#484848" stroke-width="0.9"/>
<line x1="568.67" y1="371.9" x2="568.67" y2="374.2" stroke="#484848" stroke-width="0.9"/>
<line x1="612.5" y1="371.9" x2="612.5" y2="374.2" stroke="#484848" stroke-width="0.9"/>
<line x1="481.6" y1="372.5" x2="479.3" y2="372.5" stroke="#484848" stroke-width="0.9"/>
<line x1="481.6" y1="343.94" x2="479.3" y2="343.94" stroke="#484848" stroke-width="0.9"/>
<line x1="481.6" y1="315.37" x2="479.3" y2="315.37" stroke="#484848" stroke-width="0.9"/>
<line x1="481.6" y1="286.81" x2="479.3" y2="286.81" stroke="#484848" stroke-width="0.9"/>
<line x1="481.6" y1="258.25" x2="479.3" y2="258.25" stroke="#484848" stroke-width="0.9"/>
<line x1="481.6" y1="229.68" x2="479.3" y2="229.68" stroke="#484848" stroke-width="0.9"/>
<rect x="486.1" y="227.4" width="64.5" height="38" rx="2" ry="2" fill="#ffffff" fill-opacity="0.9" stroke="#dcdcdc" stroke-width="0.8"/>
<line x1="488.6" y1="234.4" x2="499.6" y2="234.4" stroke="#ff0000" stroke-width="1.5"/>
<text class="u" x="505.5" y="237.3" font-family='"Liberation Sans", sans-serif' font-size="8.35" fill="#1a1a1a">H</text>
<line x1="488.6" y1="245.8" x2="499.6" y2="245.8" stroke="#0000ff" stroke-width="1.5"/>
<text class="u" x="505.5" y="248.7" font-family='"Liberation Sans", sans-serif' font-size="8.35" fill="#1a1a1a">D</text>
<line x1="488.6" y1="257.6" x2="499.6" y2="257.6" stroke="#ff00ff" stroke-width="1.5"/>
<text class="u" x="505.5" y="260.5" font-family='"Liberation Sans", sans-serif' font-size="8.35" fill="#1a1a1a">T</text>
<line x1="519.6" y1="234.4" x2="530.6" y2="234.4" stroke="#00c8d2" stroke-width="1.5"/>
<text class="u" x="536.5" y="237.3" font-family='"Liberation Sans", sans-serif' font-size="8.35" fill="#1a1a1a">He</text>
<line x1="519.6" y1="245.8" x2="530.6" y2="245.8" stroke="#00b400" stroke-width="1.5"/>
<text class="u" x="536.5" y="248.7" font-family='"Liberation Sans", sans-serif' font-size="8.35" fill="#1a1a1a">Be</text>
<line x1="519.6" y1="257.6" x2="530.6" y2="257.6" stroke="#ff7f0e" stroke-width="1.5"/>
<text class="u" x="536.5" y="260.5" font-family='"Liberation Sans", sans-serif' font-size="8.35" fill="#1a1a1a">W</text>
<text x="481" y="381.9" font-family='"Liberation Serif", serif' font-size="8.6" fill="#2a2a2a" text-anchor="middle">0</text>
<text x="524.83" y="381.9" font-family='"Liberation Serif", serif' font-size="8.6" fill="#2a2a2a" text-anchor="middle">30</text>
<text x="568.67" y="381.9" font-family='"Liberation Serif", serif' font-size="8.6" fill="#2a2a2a" text-anchor="middle">60</text>
<text x="612.5" y="381.9" font-family='"Liberation Serif", serif' font-size="8.6" fill="#2a2a2a" text-anchor="middle">90</text>
<text x="477.4" y="375.6" font-family='"Liberation Serif", serif' font-size="8.6" fill="#2a2a2a" text-anchor="end">0.0</text>
<text x="477.4" y="347.04" font-family='"Liberation Serif", serif' font-size="8.6" fill="#2a2a2a" text-anchor="end">0.2</text>
<text x="477.4" y="318.47" font-family='"Liberation Serif", serif' font-size="8.6" fill="#2a2a2a" text-anchor="end">0.4</text>
<text x="477.4" y="289.91" font-family='"Liberation Serif", serif' font-size="8.6" fill="#2a2a2a" text-anchor="end">0.6</text>
<text x="477.4" y="261.35" font-family='"Liberation Serif", serif' font-size="8.6" fill="#2a2a2a" text-anchor="end">0.8</text>
<text x="477.4" y="232.78" font-family='"Liberation Serif", serif' font-size="8.6" fill="#2a2a2a" text-anchor="end">1.0</text>
<text class="t" x="494.45" y="220.2" font-family='"Liberation Sans", sans-serif' font-size="9.8" fill="#000000" textLength="46.74" lengthAdjust="spacingAndGlyphs">refl. coeff.</text>
<text x="546.3" y="220.2" font-family='"Liberation Serif", serif' font-size="11.0" fill="#000000" font-style="italic" textLength="21.23" lengthAdjust="spacing">R<tspan font-style="normal">(</tspan>θ<tspan font-style="normal">)</tspan></text>
<text class="t" x="571.05" y="220.2" font-family='"Liberation Sans", sans-serif' font-size="9.8" fill="#000000" textLength="25.99" lengthAdjust="spacingAndGlyphs">on W</text>
<text class="u" x="512.41" y="392.9" font-family='"Liberation Sans", sans-serif' font-size="8.6" fill="#000000" textLength="47.98" lengthAdjust="spacingAndGlyphs">impact angle</text>
<text x="562.64" y="392.5" font-family='"Liberation Serif", serif' font-size="9.3" fill="#000000" font-style="italic" textLength="5.03" lengthAdjust="spacingAndGlyphs">θ</text>
<text x="570.74" y="392.5" font-family='"Liberation Sans", sans-serif' font-size="9.2" fill="#000000" textLength="8.38" lengthAdjust="spacingAndGlyphs">[°]</text>
<text x="531.4" y="415.6" font-family='"Liberation Serif", serif' font-size="14.9" fill="#000" font-weight="bold" textLength="5" lengthAdjust="spacingAndGlyphs">(</text>
<text x="536.89" y="414.6" font-family='"Liberation Serif", serif' font-size="11.9" fill="#000" font-weight="bold" textLength="8.66" lengthAdjust="spacingAndGlyphs">h</text>
<text x="546.15" y="415.6" font-family='"Liberation Serif", serif' font-size="14.9" fill="#000" font-weight="bold" textLength="5" lengthAdjust="spacingAndGlyphs">)</text>
</svg></body></html>
